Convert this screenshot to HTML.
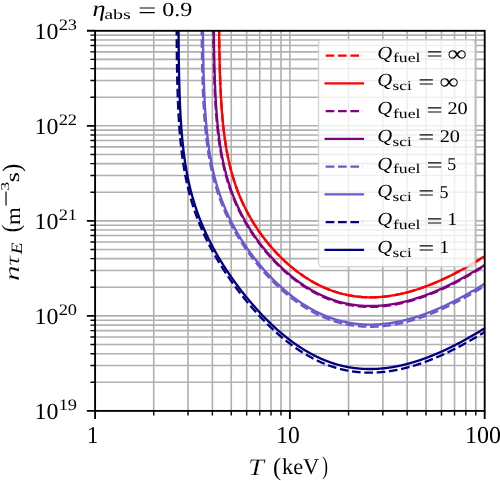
<!DOCTYPE html>
<html><head><meta charset="utf-8"><title>Lawson criterion</title>
<style>html,body{margin:0;padding:0;background:#fff;overflow:hidden}svg{display:block;text-rendering:geometricPrecision}</style>
</head><body>
<svg width="500" height="481" viewBox="0 0 500 481">
<rect width="500" height="481" fill="#fff"/>
<defs><clipPath id="ax"><rect x="95.10" y="30.80" width="389.60" height="380.10"/></clipPath></defs>
<path d="M153.74,30.80V410.90M188.04,30.80V410.90M212.38,30.80V410.90M231.26,30.80V410.90M246.68,30.80V410.90M259.73,30.80V410.90M271.02,30.80V410.90M280.99,30.80V410.90M289.90,30.80V410.90M348.54,30.80V410.90M382.84,30.80V410.90M407.18,30.80V410.90M426.06,30.80V410.90M441.48,30.80V410.90M454.53,30.80V410.90M465.82,30.80V410.90M475.79,30.80V410.90M95.10,382.29H484.70M95.10,365.56H484.70M95.10,353.69H484.70M95.10,344.48H484.70M95.10,336.96H484.70M95.10,330.59H484.70M95.10,325.08H484.70M95.10,320.22H484.70M95.10,315.88H484.70M95.10,287.27H484.70M95.10,270.54H484.70M95.10,258.66H484.70M95.10,249.46H484.70M95.10,241.93H484.70M95.10,235.57H484.70M95.10,230.06H484.70M95.10,225.20H484.70M95.10,220.85H484.70M95.10,192.24H484.70M95.10,175.51H484.70M95.10,163.64H484.70M95.10,154.43H484.70M95.10,146.91H484.70M95.10,140.54H484.70M95.10,135.03H484.70M95.10,130.17H484.70M95.10,125.82H484.70M95.10,97.22H484.70M95.10,80.49H484.70M95.10,68.61H484.70M95.10,59.41H484.70M95.10,51.88H484.70M95.10,45.52H484.70M95.10,40.01H484.70M95.10,35.15H484.70" stroke="#b0b0b0" stroke-width="1.60" fill="none"/>
<g clip-path="url(#ax)" fill="none" stroke-width="2.33">
<path d="M218.85,2.29 L219.23,41.57 L219.61,61.45 L220.00,74.91 L220.38,85.12 L220.76,93.36 L221.15,100.28 L221.53,106.25 L221.91,111.50 L222.30,116.20 L222.68,120.45 L223.06,124.33 L223.44,127.91 L223.83,131.23 L224.21,134.32 L224.59,137.23 L224.98,139.96 L225.36,142.54 L225.74,145.00 L226.13,147.33 L226.51,149.55 L226.89,151.68 L227.28,153.72 L227.66,155.68 L228.04,157.57 L228.42,159.38 L228.81,161.14 L229.19,162.83 L229.57,164.48 L229.96,166.07 L230.34,167.61 L230.72,169.11 L231.11,170.57 L231.49,171.99 L231.87,173.38 L232.26,174.73 L232.64,176.05 L233.02,177.33 L233.41,178.59 L233.79,179.82 L234.17,181.02 L234.55,182.20 L234.94,183.35 L235.32,184.49 L235.70,185.60 L236.09,186.69 L236.47,187.75 L236.85,188.80 L237.24,189.84 L237.62,190.85 L238.00,191.85 L238.39,192.83 L238.77,193.79 L239.15,194.74 L239.54,195.68 L239.92,196.60 L240.30,197.51 L240.68,198.41 L241.07,199.29 L241.45,200.16 L241.83,201.02 L242.22,201.87 L242.60,202.70 L242.98,203.53 L243.37,204.34 L243.75,205.15 L244.13,205.94 L244.52,206.73 L244.90,207.51 L245.28,208.27 L245.67,209.03 L246.05,209.78 L246.43,210.53 L246.81,211.26 L247.20,211.99 L247.58,212.71 L247.96,213.42 L248.35,214.12 L248.73,214.82 L249.11,215.51 L249.50,216.19 L249.88,216.87 L250.26,217.54 L250.65,218.20 L251.03,218.86 L251.41,219.51 L251.80,220.15 L252.18,220.79 L252.56,221.43 L252.94,222.06 L253.33,222.68 L253.71,223.30 L254.09,223.91 L254.48,224.51 L254.86,225.12 L255.24,225.71 L255.63,226.30 L256.01,226.89 L256.39,227.47 L256.78,228.05 L257.16,228.63 L257.54,229.19 L257.93,229.76 L258.31,230.32 L258.69,230.87 L259.07,231.43 L259.46,231.97 L259.84,232.52 L260.22,233.06 L260.61,233.59 L260.99,234.12 L261.37,234.65 L261.76,235.17 L262.14,235.69 L262.52,236.21 L262.91,236.72 L263.29,237.23 L263.67,237.74 L264.06,238.24 L264.44,238.74 L264.82,239.23 L265.20,239.73 L265.59,240.21 L265.97,240.70 L266.35,241.18 L266.74,241.66 L267.12,242.14 L267.50,242.61 L267.89,243.08 L268.27,243.55 L268.65,244.01 L269.04,244.47 L269.42,244.93 L269.80,245.38 L270.19,245.83 L270.57,246.28 L270.95,246.73 L271.33,247.17 L271.72,247.61 L272.10,248.05 L272.48,248.48 L272.87,248.91 L273.25,249.34 L273.63,249.77 L274.02,250.19 L274.40,250.62 L274.78,251.04 L275.17,251.45 L275.55,251.86 L275.93,252.28 L276.31,252.68 L276.70,253.09 L277.08,253.49 L277.46,253.90 L277.85,254.29 L278.23,254.69 L278.61,255.08 L279.00,255.48 L279.38,255.86 L279.76,256.25 L280.15,256.64 L280.53,257.02 L280.91,257.40 L281.30,257.77 L281.68,258.15 L282.06,258.52 L282.44,258.89 L282.83,259.26 L283.21,259.63 L283.59,259.99 L283.98,260.35 L284.36,260.71 L284.74,261.07 L285.13,261.42 L285.51,261.78 L285.89,262.13 L286.28,262.48 L286.66,262.82 L287.04,263.17 L287.43,263.51 L287.81,263.85 L288.19,264.19 L288.57,264.52 L288.96,264.86 L289.34,265.19 L289.72,265.52 L290.11,265.85 L290.49,266.17 L290.87,266.50 L291.26,266.82 L291.64,267.14 L292.02,267.45 L292.41,267.77 L292.79,268.08 L293.17,268.40 L293.56,268.71 L293.94,269.01 L294.32,269.32 L294.70,269.62 L295.09,269.92 L295.47,270.22 L295.85,270.52 L296.24,270.82 L296.62,271.11 L297.00,271.41 L297.39,271.70 L297.77,271.98 L298.15,272.27 L298.54,272.56 L298.92,272.84 L299.30,273.12 L299.69,273.40 L300.07,273.68 L300.45,273.95 L300.83,274.22 L301.22,274.50 L301.60,274.77 L301.98,275.03 L302.37,275.30 L302.75,275.57 L303.13,275.83 L303.52,276.09 L303.90,276.35 L304.28,276.60 L304.67,276.86 L305.05,277.11 L305.43,277.37 L305.82,277.62 L306.20,277.86 L306.58,278.11 L306.96,278.36 L307.35,278.60 L307.73,278.84 L308.11,279.08 L308.50,279.32 L308.88,279.55 L309.26,279.79 L309.65,280.02 L310.03,280.25 L310.41,280.48 L310.80,280.71 L311.18,280.93 L311.56,281.16 L311.95,281.38 L312.33,281.60 L312.71,281.82 L313.09,282.03 L313.48,282.25 L313.86,282.46 L314.24,282.67 L314.63,282.89 L315.01,283.09 L315.39,283.30 L315.78,283.51 L316.16,283.71 L316.54,283.91 L316.93,284.11 L317.31,284.31 L317.69,284.51 L318.08,284.70 L318.46,284.90 L318.84,285.09 L319.22,285.28 L319.61,285.47 L319.99,285.65 L320.37,285.84 L320.76,286.02 L321.14,286.21 L321.52,286.39 L321.91,286.57 L322.29,286.74 L322.67,286.92 L323.06,287.09 L323.44,287.27 L323.82,287.44 L324.21,287.61 L324.59,287.77 L324.97,287.94 L325.35,288.10 L325.74,288.27 L326.12,288.43 L326.50,288.59 L326.89,288.75 L327.27,288.90 L327.65,289.06 L328.04,289.21 L328.42,289.36 L328.80,289.52 L329.19,289.66 L329.57,289.81 L329.95,289.96 L330.33,290.10 L330.72,290.24 L331.10,290.39 L331.48,290.53 L331.87,290.66 L332.25,290.80 L332.63,290.94 L333.02,291.07 L333.40,291.20 L333.78,291.33 L334.17,291.46 L334.55,291.59 L334.93,291.72 L335.32,291.84 L335.70,291.96 L336.08,292.08 L336.46,292.20 L336.85,292.32 L337.23,292.44 L337.61,292.56 L338.00,292.67 L338.38,292.78 L338.76,292.89 L339.15,293.00 L339.53,293.11 L339.91,293.22 L340.30,293.32 L340.68,293.43 L341.06,293.53 L341.45,293.63 L341.83,293.73 L342.21,293.83 L342.59,293.93 L342.98,294.02 L343.36,294.12 L343.74,294.21 L344.13,294.30 L344.51,294.39 L344.89,294.48 L345.28,294.57 L345.66,294.65 L346.04,294.73 L346.43,294.82 L346.81,294.90 L347.19,294.98 L347.58,295.06 L347.96,295.13 L348.34,295.21 L348.72,295.28 L349.11,295.36 L349.49,295.43 L349.87,295.50 L350.26,295.57 L350.64,295.63 L351.02,295.70 L351.41,295.77 L351.79,295.83 L352.17,295.89 L352.56,295.95 L352.94,296.01 L353.32,296.07 L353.71,296.13 L354.09,296.18 L354.47,296.23 L354.85,296.29 L355.24,296.34 L355.62,296.39 L356.00,296.44 L356.39,296.49 L356.77,296.53 L357.15,296.58 L357.54,296.62 L357.92,296.66 L358.30,296.70 L358.69,296.74 L359.07,296.78 L359.45,296.82 L359.84,296.85 L360.22,296.89 L360.60,296.92 L360.98,296.95 L361.37,296.98 L361.75,297.01 L362.13,297.04 L362.52,297.07 L362.90,297.09 L363.28,297.12 L363.67,297.14 L364.05,297.16 L364.43,297.18 L364.82,297.20 L365.20,297.22 L365.58,297.24 L365.97,297.25 L366.35,297.27 L366.73,297.28 L367.11,297.29 L367.50,297.30 L367.88,297.31 L368.26,297.32 L368.65,297.33 L369.03,297.33 L369.41,297.34 L369.80,297.34 L370.18,297.34 L370.56,297.34 L370.95,297.34 L371.33,297.34 L371.71,297.34 L372.10,297.33 L372.48,297.33 L372.86,297.32 L373.24,297.32 L373.63,297.31 L374.01,297.30 L374.39,297.29 L374.78,297.27 L375.16,297.26 L375.54,297.25 L375.93,297.23 L376.31,297.22 L376.69,297.20 L377.08,297.18 L377.46,297.16 L377.84,297.14 L378.22,297.11 L378.61,297.09 L378.99,297.07 L379.37,297.04 L379.76,297.01 L380.14,296.99 L380.52,296.96 L380.91,296.93 L381.29,296.90 L381.67,296.86 L382.06,296.83 L382.44,296.80 L382.82,296.76 L383.21,296.72 L383.59,296.68 L383.97,296.65 L384.35,296.61 L384.74,296.56 L385.12,296.52 L385.50,296.48 L385.89,296.43 L386.27,296.39 L386.65,296.34 L387.04,296.29 L387.42,296.25 L387.80,296.20 L388.19,296.15 L388.57,296.09 L388.95,296.04 L389.34,295.99 L389.72,295.93 L390.10,295.88 L390.48,295.82 L390.87,295.76 L391.25,295.70 L391.63,295.64 L392.02,295.58 L392.40,295.52 L392.78,295.45 L393.17,295.39 L393.55,295.32 L393.93,295.26 L394.32,295.19 L394.70,295.12 L395.08,295.05 L395.47,294.98 L395.85,294.91 L396.23,294.84 L396.61,294.76 L397.00,294.69 L397.38,294.62 L397.76,294.54 L398.15,294.46 L398.53,294.38 L398.91,294.30 L399.30,294.22 L399.68,294.14 L400.06,294.06 L400.45,293.98 L400.83,293.89 L401.21,293.81 L401.60,293.72 L401.98,293.63 L402.36,293.55 L402.74,293.46 L403.13,293.37 L403.51,293.28 L403.89,293.18 L404.28,293.09 L404.66,293.00 L405.04,292.90 L405.43,292.81 L405.81,292.71 L406.19,292.61 L406.58,292.51 L406.96,292.41 L407.34,292.31 L407.73,292.21 L408.11,292.11 L408.49,292.01 L408.87,291.90 L409.26,291.80 L409.64,291.69 L410.02,291.59 L410.41,291.48 L410.79,291.37 L411.17,291.26 L411.56,291.15 L411.94,291.04 L412.32,290.93 L412.71,290.81 L413.09,290.70 L413.47,290.59 L413.86,290.47 L414.24,290.35 L414.62,290.24 L415.00,290.12 L415.39,290.00 L415.77,289.88 L416.15,289.76 L416.54,289.64 L416.92,289.51 L417.30,289.39 L417.69,289.27 L418.07,289.14 L418.45,289.01 L418.84,288.89 L419.22,288.76 L419.60,288.63 L419.99,288.50 L420.37,288.37 L420.75,288.24 L421.13,288.11 L421.52,287.97 L421.90,287.84 L422.28,287.71 L422.67,287.57 L423.05,287.43 L423.43,287.30 L423.82,287.16 L424.20,287.02 L424.58,286.88 L424.97,286.74 L425.35,286.60 L425.73,286.46 L426.11,286.32 L426.50,286.17 L426.88,286.03 L427.26,285.88 L427.65,285.74 L428.03,285.59 L428.41,285.44 L428.80,285.29 L429.18,285.14 L429.56,284.99 L429.95,284.84 L430.33,284.69 L430.71,284.54 L431.10,284.39 L431.48,284.23 L431.86,284.08 L432.24,283.92 L432.63,283.77 L433.01,283.61 L433.39,283.45 L433.78,283.29 L434.16,283.13 L434.54,282.97 L434.93,282.81 L435.31,282.65 L435.69,282.49 L436.08,282.33 L436.46,282.16 L436.84,282.00 L437.23,281.83 L437.61,281.67 L437.99,281.50 L438.37,281.33 L438.76,281.16 L439.14,280.99 L439.52,280.82 L439.91,280.65 L440.29,280.48 L440.67,280.31 L441.06,280.14 L441.44,279.96 L441.82,279.79 L442.21,279.61 L442.59,279.44 L442.97,279.26 L443.36,279.09 L443.74,278.91 L444.12,278.73 L444.50,278.55 L444.89,278.37 L445.27,278.19 L445.65,278.01 L446.04,277.83 L446.42,277.64 L446.80,277.46 L447.19,277.28 L447.57,277.09 L447.95,276.90 L448.34,276.72 L448.72,276.53 L449.10,276.34 L449.49,276.16 L449.87,275.97 L450.25,275.78 L450.63,275.59 L451.02,275.40 L451.40,275.20 L451.78,275.01 L452.17,274.82 L452.55,274.62 L452.93,274.43 L453.32,274.24 L453.70,274.04 L454.08,273.84 L454.47,273.65 L454.85,273.45 L455.23,273.25 L455.62,273.05 L456.00,272.85 L456.38,272.65 L456.76,272.45 L457.15,272.25 L457.53,272.05 L457.91,271.84 L458.30,271.64 L458.68,271.43 L459.06,271.23 L459.45,271.02 L459.83,270.82 L460.21,270.61 L460.60,270.40 L460.98,270.20 L461.36,269.99 L461.75,269.78 L462.13,269.57 L462.51,269.36 L462.89,269.15 L463.28,268.93 L463.66,268.72 L464.04,268.51 L464.43,268.30 L464.81,268.08 L465.19,267.87 L465.58,267.65 L465.96,267.43 L466.34,267.22 L466.73,267.00 L467.11,266.78 L467.49,266.56 L467.88,266.34 L468.26,266.13 L468.64,265.90 L469.02,265.68 L469.41,265.46 L469.79,265.24 L470.17,265.02 L470.56,264.79 L470.94,264.57 L471.32,264.35 L471.71,264.12 L472.09,263.90 L472.47,263.67 L472.86,263.44 L473.24,263.22 L473.62,262.99 L474.01,262.76 L474.39,262.53 L474.77,262.30 L475.15,262.07 L475.54,261.84 L475.92,261.61 L476.30,261.38 L476.69,261.14 L477.07,260.91 L477.45,260.68 L477.84,260.44 L478.22,260.21 L478.60,259.97 L478.99,259.74 L479.37,259.50 L479.75,259.27 L480.13,259.03 L480.52,258.79 L480.90,258.55 L481.28,258.31 L481.67,258.07 L482.05,257.83 L482.43,257.59 L482.82,257.35 L483.20,257.11 L483.58,256.87 L483.97,256.63 L484.35,256.38 L484.73,256.14 L485.12,255.90 L485.50,255.65 L485.88,255.41 L486.26,255.16 L486.65,254.91" stroke="#ff0000" stroke-dasharray="8.62 3.73" stroke-linejoin="round"/>
<path d="M218.85,2.29 L219.23,41.57 L219.61,61.45 L220.00,74.91 L220.38,85.12 L220.76,93.36 L221.15,100.28 L221.53,106.25 L221.91,111.50 L222.30,116.20 L222.68,120.45 L223.06,124.33 L223.44,127.91 L223.83,131.23 L224.21,134.32 L224.59,137.23 L224.98,139.96 L225.36,142.54 L225.74,145.00 L226.13,147.33 L226.51,149.55 L226.89,151.68 L227.28,153.72 L227.66,155.68 L228.04,157.57 L228.42,159.38 L228.81,161.14 L229.19,162.83 L229.57,164.48 L229.96,166.07 L230.34,167.61 L230.72,169.11 L231.11,170.57 L231.49,171.99 L231.87,173.38 L232.26,174.73 L232.64,176.05 L233.02,177.33 L233.41,178.59 L233.79,179.82 L234.17,181.02 L234.55,182.20 L234.94,183.35 L235.32,184.49 L235.70,185.60 L236.09,186.69 L236.47,187.75 L236.85,188.80 L237.24,189.84 L237.62,190.85 L238.00,191.85 L238.39,192.83 L238.77,193.79 L239.15,194.74 L239.54,195.68 L239.92,196.60 L240.30,197.51 L240.68,198.41 L241.07,199.29 L241.45,200.16 L241.83,201.02 L242.22,201.87 L242.60,202.70 L242.98,203.53 L243.37,204.34 L243.75,205.15 L244.13,205.94 L244.52,206.73 L244.90,207.51 L245.28,208.27 L245.67,209.03 L246.05,209.78 L246.43,210.53 L246.81,211.26 L247.20,211.99 L247.58,212.71 L247.96,213.42 L248.35,214.12 L248.73,214.82 L249.11,215.51 L249.50,216.19 L249.88,216.87 L250.26,217.54 L250.65,218.20 L251.03,218.86 L251.41,219.51 L251.80,220.15 L252.18,220.79 L252.56,221.43 L252.94,222.06 L253.33,222.68 L253.71,223.30 L254.09,223.91 L254.48,224.51 L254.86,225.12 L255.24,225.71 L255.63,226.30 L256.01,226.89 L256.39,227.47 L256.78,228.05 L257.16,228.63 L257.54,229.19 L257.93,229.76 L258.31,230.32 L258.69,230.87 L259.07,231.43 L259.46,231.97 L259.84,232.52 L260.22,233.06 L260.61,233.59 L260.99,234.12 L261.37,234.65 L261.76,235.17 L262.14,235.69 L262.52,236.21 L262.91,236.72 L263.29,237.23 L263.67,237.74 L264.06,238.24 L264.44,238.74 L264.82,239.23 L265.20,239.73 L265.59,240.21 L265.97,240.70 L266.35,241.18 L266.74,241.66 L267.12,242.14 L267.50,242.61 L267.89,243.08 L268.27,243.55 L268.65,244.01 L269.04,244.47 L269.42,244.93 L269.80,245.38 L270.19,245.83 L270.57,246.28 L270.95,246.73 L271.33,247.17 L271.72,247.61 L272.10,248.05 L272.48,248.48 L272.87,248.91 L273.25,249.34 L273.63,249.77 L274.02,250.19 L274.40,250.62 L274.78,251.04 L275.17,251.45 L275.55,251.86 L275.93,252.28 L276.31,252.68 L276.70,253.09 L277.08,253.49 L277.46,253.90 L277.85,254.29 L278.23,254.69 L278.61,255.08 L279.00,255.48 L279.38,255.86 L279.76,256.25 L280.15,256.64 L280.53,257.02 L280.91,257.40 L281.30,257.77 L281.68,258.15 L282.06,258.52 L282.44,258.89 L282.83,259.26 L283.21,259.63 L283.59,259.99 L283.98,260.35 L284.36,260.71 L284.74,261.07 L285.13,261.42 L285.51,261.78 L285.89,262.13 L286.28,262.48 L286.66,262.82 L287.04,263.17 L287.43,263.51 L287.81,263.85 L288.19,264.19 L288.57,264.52 L288.96,264.86 L289.34,265.19 L289.72,265.52 L290.11,265.85 L290.49,266.17 L290.87,266.50 L291.26,266.82 L291.64,267.14 L292.02,267.45 L292.41,267.77 L292.79,268.08 L293.17,268.40 L293.56,268.71 L293.94,269.01 L294.32,269.32 L294.70,269.62 L295.09,269.92 L295.47,270.22 L295.85,270.52 L296.24,270.82 L296.62,271.11 L297.00,271.41 L297.39,271.70 L297.77,271.98 L298.15,272.27 L298.54,272.56 L298.92,272.84 L299.30,273.12 L299.69,273.40 L300.07,273.68 L300.45,273.95 L300.83,274.22 L301.22,274.50 L301.60,274.77 L301.98,275.03 L302.37,275.30 L302.75,275.57 L303.13,275.83 L303.52,276.09 L303.90,276.35 L304.28,276.60 L304.67,276.86 L305.05,277.11 L305.43,277.37 L305.82,277.62 L306.20,277.86 L306.58,278.11 L306.96,278.36 L307.35,278.60 L307.73,278.84 L308.11,279.08 L308.50,279.32 L308.88,279.55 L309.26,279.79 L309.65,280.02 L310.03,280.25 L310.41,280.48 L310.80,280.71 L311.18,280.93 L311.56,281.16 L311.95,281.38 L312.33,281.60 L312.71,281.82 L313.09,282.03 L313.48,282.25 L313.86,282.46 L314.24,282.67 L314.63,282.89 L315.01,283.09 L315.39,283.30 L315.78,283.51 L316.16,283.71 L316.54,283.91 L316.93,284.11 L317.31,284.31 L317.69,284.51 L318.08,284.70 L318.46,284.90 L318.84,285.09 L319.22,285.28 L319.61,285.47 L319.99,285.65 L320.37,285.84 L320.76,286.02 L321.14,286.21 L321.52,286.39 L321.91,286.57 L322.29,286.74 L322.67,286.92 L323.06,287.09 L323.44,287.27 L323.82,287.44 L324.21,287.61 L324.59,287.77 L324.97,287.94 L325.35,288.10 L325.74,288.27 L326.12,288.43 L326.50,288.59 L326.89,288.75 L327.27,288.90 L327.65,289.06 L328.04,289.21 L328.42,289.36 L328.80,289.52 L329.19,289.66 L329.57,289.81 L329.95,289.96 L330.33,290.10 L330.72,290.24 L331.10,290.39 L331.48,290.53 L331.87,290.66 L332.25,290.80 L332.63,290.94 L333.02,291.07 L333.40,291.20 L333.78,291.33 L334.17,291.46 L334.55,291.59 L334.93,291.72 L335.32,291.84 L335.70,291.96 L336.08,292.08 L336.46,292.20 L336.85,292.32 L337.23,292.44 L337.61,292.56 L338.00,292.67 L338.38,292.78 L338.76,292.89 L339.15,293.00 L339.53,293.11 L339.91,293.22 L340.30,293.32 L340.68,293.43 L341.06,293.53 L341.45,293.63 L341.83,293.73 L342.21,293.83 L342.59,293.93 L342.98,294.02 L343.36,294.12 L343.74,294.21 L344.13,294.30 L344.51,294.39 L344.89,294.48 L345.28,294.57 L345.66,294.65 L346.04,294.73 L346.43,294.82 L346.81,294.90 L347.19,294.98 L347.58,295.06 L347.96,295.13 L348.34,295.21 L348.72,295.28 L349.11,295.36 L349.49,295.43 L349.87,295.50 L350.26,295.57 L350.64,295.63 L351.02,295.70 L351.41,295.77 L351.79,295.83 L352.17,295.89 L352.56,295.95 L352.94,296.01 L353.32,296.07 L353.71,296.13 L354.09,296.18 L354.47,296.23 L354.85,296.29 L355.24,296.34 L355.62,296.39 L356.00,296.44 L356.39,296.49 L356.77,296.53 L357.15,296.58 L357.54,296.62 L357.92,296.66 L358.30,296.70 L358.69,296.74 L359.07,296.78 L359.45,296.82 L359.84,296.85 L360.22,296.89 L360.60,296.92 L360.98,296.95 L361.37,296.98 L361.75,297.01 L362.13,297.04 L362.52,297.07 L362.90,297.09 L363.28,297.12 L363.67,297.14 L364.05,297.16 L364.43,297.18 L364.82,297.20 L365.20,297.22 L365.58,297.24 L365.97,297.25 L366.35,297.27 L366.73,297.28 L367.11,297.29 L367.50,297.30 L367.88,297.31 L368.26,297.32 L368.65,297.33 L369.03,297.33 L369.41,297.34 L369.80,297.34 L370.18,297.34 L370.56,297.34 L370.95,297.34 L371.33,297.34 L371.71,297.34 L372.10,297.33 L372.48,297.33 L372.86,297.32 L373.24,297.32 L373.63,297.31 L374.01,297.30 L374.39,297.29 L374.78,297.27 L375.16,297.26 L375.54,297.25 L375.93,297.23 L376.31,297.22 L376.69,297.20 L377.08,297.18 L377.46,297.16 L377.84,297.14 L378.22,297.11 L378.61,297.09 L378.99,297.07 L379.37,297.04 L379.76,297.01 L380.14,296.99 L380.52,296.96 L380.91,296.93 L381.29,296.90 L381.67,296.86 L382.06,296.83 L382.44,296.80 L382.82,296.76 L383.21,296.72 L383.59,296.68 L383.97,296.65 L384.35,296.61 L384.74,296.56 L385.12,296.52 L385.50,296.48 L385.89,296.43 L386.27,296.39 L386.65,296.34 L387.04,296.29 L387.42,296.25 L387.80,296.20 L388.19,296.15 L388.57,296.09 L388.95,296.04 L389.34,295.99 L389.72,295.93 L390.10,295.88 L390.48,295.82 L390.87,295.76 L391.25,295.70 L391.63,295.64 L392.02,295.58 L392.40,295.52 L392.78,295.45 L393.17,295.39 L393.55,295.32 L393.93,295.26 L394.32,295.19 L394.70,295.12 L395.08,295.05 L395.47,294.98 L395.85,294.91 L396.23,294.84 L396.61,294.76 L397.00,294.69 L397.38,294.62 L397.76,294.54 L398.15,294.46 L398.53,294.38 L398.91,294.30 L399.30,294.22 L399.68,294.14 L400.06,294.06 L400.45,293.98 L400.83,293.89 L401.21,293.81 L401.60,293.72 L401.98,293.63 L402.36,293.55 L402.74,293.46 L403.13,293.37 L403.51,293.28 L403.89,293.18 L404.28,293.09 L404.66,293.00 L405.04,292.90 L405.43,292.81 L405.81,292.71 L406.19,292.61 L406.58,292.51 L406.96,292.41 L407.34,292.31 L407.73,292.21 L408.11,292.11 L408.49,292.01 L408.87,291.90 L409.26,291.80 L409.64,291.69 L410.02,291.59 L410.41,291.48 L410.79,291.37 L411.17,291.26 L411.56,291.15 L411.94,291.04 L412.32,290.93 L412.71,290.81 L413.09,290.70 L413.47,290.59 L413.86,290.47 L414.24,290.35 L414.62,290.24 L415.00,290.12 L415.39,290.00 L415.77,289.88 L416.15,289.76 L416.54,289.64 L416.92,289.51 L417.30,289.39 L417.69,289.27 L418.07,289.14 L418.45,289.01 L418.84,288.89 L419.22,288.76 L419.60,288.63 L419.99,288.50 L420.37,288.37 L420.75,288.24 L421.13,288.11 L421.52,287.97 L421.90,287.84 L422.28,287.71 L422.67,287.57 L423.05,287.43 L423.43,287.30 L423.82,287.16 L424.20,287.02 L424.58,286.88 L424.97,286.74 L425.35,286.60 L425.73,286.46 L426.11,286.32 L426.50,286.17 L426.88,286.03 L427.26,285.88 L427.65,285.74 L428.03,285.59 L428.41,285.44 L428.80,285.29 L429.18,285.14 L429.56,284.99 L429.95,284.84 L430.33,284.69 L430.71,284.54 L431.10,284.39 L431.48,284.23 L431.86,284.08 L432.24,283.92 L432.63,283.77 L433.01,283.61 L433.39,283.45 L433.78,283.29 L434.16,283.13 L434.54,282.97 L434.93,282.81 L435.31,282.65 L435.69,282.49 L436.08,282.33 L436.46,282.16 L436.84,282.00 L437.23,281.83 L437.61,281.67 L437.99,281.50 L438.37,281.33 L438.76,281.16 L439.14,280.99 L439.52,280.82 L439.91,280.65 L440.29,280.48 L440.67,280.31 L441.06,280.14 L441.44,279.96 L441.82,279.79 L442.21,279.61 L442.59,279.44 L442.97,279.26 L443.36,279.09 L443.74,278.91 L444.12,278.73 L444.50,278.55 L444.89,278.37 L445.27,278.19 L445.65,278.01 L446.04,277.83 L446.42,277.64 L446.80,277.46 L447.19,277.28 L447.57,277.09 L447.95,276.90 L448.34,276.72 L448.72,276.53 L449.10,276.34 L449.49,276.16 L449.87,275.97 L450.25,275.78 L450.63,275.59 L451.02,275.40 L451.40,275.20 L451.78,275.01 L452.17,274.82 L452.55,274.62 L452.93,274.43 L453.32,274.24 L453.70,274.04 L454.08,273.84 L454.47,273.65 L454.85,273.45 L455.23,273.25 L455.62,273.05 L456.00,272.85 L456.38,272.65 L456.76,272.45 L457.15,272.25 L457.53,272.05 L457.91,271.84 L458.30,271.64 L458.68,271.43 L459.06,271.23 L459.45,271.02 L459.83,270.82 L460.21,270.61 L460.60,270.40 L460.98,270.20 L461.36,269.99 L461.75,269.78 L462.13,269.57 L462.51,269.36 L462.89,269.15 L463.28,268.93 L463.66,268.72 L464.04,268.51 L464.43,268.30 L464.81,268.08 L465.19,267.87 L465.58,267.65 L465.96,267.43 L466.34,267.22 L466.73,267.00 L467.11,266.78 L467.49,266.56 L467.88,266.34 L468.26,266.13 L468.64,265.90 L469.02,265.68 L469.41,265.46 L469.79,265.24 L470.17,265.02 L470.56,264.79 L470.94,264.57 L471.32,264.35 L471.71,264.12 L472.09,263.90 L472.47,263.67 L472.86,263.44 L473.24,263.22 L473.62,262.99 L474.01,262.76 L474.39,262.53 L474.77,262.30 L475.15,262.07 L475.54,261.84 L475.92,261.61 L476.30,261.38 L476.69,261.14 L477.07,260.91 L477.45,260.68 L477.84,260.44 L478.22,260.21 L478.60,259.97 L478.99,259.74 L479.37,259.50 L479.75,259.27 L480.13,259.03 L480.52,258.79 L480.90,258.55 L481.28,258.31 L481.67,258.07 L482.05,257.83 L482.43,257.59 L482.82,257.35 L483.20,257.11 L483.58,256.87 L483.97,256.63 L484.35,256.38 L484.73,256.14 L485.12,255.90 L485.50,255.65 L485.88,255.41 L486.26,255.16 L486.65,254.91" stroke="#ff0000" stroke-linecap="square" stroke-linejoin="round"/>
<path d="M213.08,2.29 L213.47,43.70 L213.87,64.09 L214.26,77.78 L214.65,88.12 L215.04,96.46 L215.43,103.44 L215.82,109.47 L216.21,114.77 L216.61,119.50 L217.00,123.79 L217.39,127.70 L217.78,131.31 L218.17,134.65 L218.56,137.77 L218.95,140.70 L219.35,143.46 L219.74,146.06 L220.13,148.53 L220.52,150.89 L220.91,153.13 L221.30,155.28 L221.69,157.34 L222.08,159.31 L222.48,161.22 L222.87,163.05 L223.26,164.83 L223.65,166.54 L224.04,168.20 L224.43,169.81 L224.82,171.37 L225.22,172.89 L225.61,174.37 L226.00,175.80 L226.39,177.21 L226.78,178.57 L227.17,179.91 L227.56,181.21 L227.96,182.48 L228.35,183.73 L228.74,184.95 L229.13,186.15 L229.52,187.32 L229.91,188.47 L230.30,189.59 L230.69,190.70 L231.09,191.78 L231.48,192.85 L231.87,193.90 L232.26,194.93 L232.65,195.95 L233.04,196.94 L233.43,197.93 L233.83,198.89 L234.22,199.85 L234.61,200.79 L235.00,201.71 L235.39,202.62 L235.78,203.52 L236.17,204.41 L236.57,205.29 L236.96,206.15 L237.35,207.01 L237.74,207.85 L238.13,208.68 L238.52,209.50 L238.91,210.32 L239.30,211.12 L239.70,211.91 L240.09,212.70 L240.48,213.48 L240.87,214.24 L241.26,215.00 L241.65,215.76 L242.04,216.50 L242.44,217.24 L242.83,217.96 L243.22,218.69 L243.61,219.40 L244.00,220.11 L244.39,220.81 L244.78,221.50 L245.18,222.19 L245.57,222.87 L245.96,223.55 L246.35,224.22 L246.74,224.88 L247.13,225.54 L247.52,226.19 L247.91,226.84 L248.31,227.48 L248.70,228.11 L249.09,228.74 L249.48,229.37 L249.87,229.99 L250.26,230.60 L250.65,231.21 L251.05,231.82 L251.44,232.42 L251.83,233.01 L252.22,233.61 L252.61,234.19 L253.00,234.78 L253.39,235.35 L253.79,235.93 L254.18,236.50 L254.57,237.06 L254.96,237.63 L255.35,238.18 L255.74,238.74 L256.13,239.29 L256.53,239.83 L256.92,240.38 L257.31,240.91 L257.70,241.45 L258.09,241.98 L258.48,242.51 L258.87,243.03 L259.26,243.55 L259.66,244.07 L260.05,244.59 L260.44,245.10 L260.83,245.60 L261.22,246.11 L261.61,246.61 L262.00,247.11 L262.40,247.60 L262.79,248.09 L263.18,248.58 L263.57,249.07 L263.96,249.55 L264.35,250.03 L264.74,250.50 L265.14,250.98 L265.53,251.45 L265.92,251.92 L266.31,252.38 L266.70,252.84 L267.09,253.30 L267.48,253.76 L267.87,254.21 L268.27,254.66 L268.66,255.11 L269.05,255.56 L269.44,256.00 L269.83,256.44 L270.22,256.88 L270.61,257.32 L271.01,257.75 L271.40,258.18 L271.79,258.61 L272.18,259.03 L272.57,259.45 L272.96,259.87 L273.35,260.29 L273.75,260.71 L274.14,261.12 L274.53,261.53 L274.92,261.94 L275.31,262.34 L275.70,262.75 L276.09,263.15 L276.48,263.55 L276.88,263.94 L277.27,264.34 L277.66,264.73 L278.05,265.12 L278.44,265.51 L278.83,265.89 L279.22,266.27 L279.62,266.66 L280.01,267.03 L280.40,267.41 L280.79,267.78 L281.18,268.16 L281.57,268.53 L281.96,268.89 L282.36,269.26 L282.75,269.62 L283.14,269.98 L283.53,270.34 L283.92,270.70 L284.31,271.05 L284.70,271.41 L285.09,271.76 L285.49,272.11 L285.88,272.45 L286.27,272.80 L286.66,273.14 L287.05,273.48 L287.44,273.82 L287.83,274.15 L288.23,274.49 L288.62,274.82 L289.01,275.15 L289.40,275.48 L289.79,275.81 L290.18,276.13 L290.57,276.45 L290.97,276.77 L291.36,277.09 L291.75,277.41 L292.14,277.72 L292.53,278.04 L292.92,278.35 L293.31,278.66 L293.70,278.96 L294.10,279.27 L294.49,279.57 L294.88,279.87 L295.27,280.17 L295.66,280.47 L296.05,280.76 L296.44,281.06 L296.84,281.35 L297.23,281.64 L297.62,281.93 L298.01,282.21 L298.40,282.50 L298.79,282.78 L299.18,283.06 L299.58,283.34 L299.97,283.62 L300.36,283.89 L300.75,284.16 L301.14,284.44 L301.53,284.70 L301.92,284.97 L302.31,285.24 L302.71,285.50 L303.10,285.76 L303.49,286.03 L303.88,286.28 L304.27,286.54 L304.66,286.80 L305.05,287.05 L305.45,287.30 L305.84,287.55 L306.23,287.80 L306.62,288.04 L307.01,288.29 L307.40,288.53 L307.79,288.77 L308.19,289.01 L308.58,289.25 L308.97,289.48 L309.36,289.72 L309.75,289.95 L310.14,290.18 L310.53,290.41 L310.92,290.64 L311.32,290.86 L311.71,291.08 L312.10,291.31 L312.49,291.53 L312.88,291.74 L313.27,291.96 L313.66,292.18 L314.06,292.39 L314.45,292.60 L314.84,292.81 L315.23,293.02 L315.62,293.22 L316.01,293.43 L316.40,293.63 L316.80,293.83 L317.19,294.03 L317.58,294.23 L317.97,294.43 L318.36,294.62 L318.75,294.82 L319.14,295.01 L319.53,295.20 L319.93,295.38 L320.32,295.57 L320.71,295.75 L321.10,295.94 L321.49,296.12 L321.88,296.30 L322.27,296.48 L322.67,296.65 L323.06,296.83 L323.45,297.00 L323.84,297.17 L324.23,297.34 L324.62,297.51 L325.01,297.68 L325.41,297.84 L325.80,298.01 L326.19,298.17 L326.58,298.33 L326.97,298.49 L327.36,298.64 L327.75,298.80 L328.14,298.95 L328.54,299.10 L328.93,299.26 L329.32,299.40 L329.71,299.55 L330.10,299.70 L330.49,299.84 L330.88,299.98 L331.28,300.13 L331.67,300.27 L332.06,300.40 L332.45,300.54 L332.84,300.68 L333.23,300.81 L333.62,300.94 L334.02,301.07 L334.41,301.20 L334.80,301.33 L335.19,301.45 L335.58,301.58 L335.97,301.70 L336.36,301.82 L336.75,301.94 L337.15,302.06 L337.54,302.17 L337.93,302.29 L338.32,302.40 L338.71,302.51 L339.10,302.63 L339.49,302.73 L339.89,302.84 L340.28,302.95 L340.67,303.05 L341.06,303.16 L341.45,303.26 L341.84,303.36 L342.23,303.46 L342.63,303.55 L343.02,303.65 L343.41,303.74 L343.80,303.83 L344.19,303.93 L344.58,304.02 L344.97,304.10 L345.37,304.19 L345.76,304.28 L346.15,304.36 L346.54,304.44 L346.93,304.52 L347.32,304.60 L347.71,304.68 L348.10,304.76 L348.50,304.83 L348.89,304.91 L349.28,304.98 L349.67,305.05 L350.06,305.12 L350.45,305.19 L350.84,305.26 L351.24,305.32 L351.63,305.39 L352.02,305.45 L352.41,305.51 L352.80,305.57 L353.19,305.63 L353.58,305.69 L353.98,305.74 L354.37,305.80 L354.76,305.85 L355.15,305.90 L355.54,305.95 L355.93,306.00 L356.32,306.05 L356.71,306.09 L357.11,306.14 L357.50,306.18 L357.89,306.22 L358.28,306.26 L358.67,306.30 L359.06,306.34 L359.45,306.38 L359.85,306.41 L360.24,306.45 L360.63,306.48 L361.02,306.51 L361.41,306.54 L361.80,306.57 L362.19,306.60 L362.59,306.63 L362.98,306.65 L363.37,306.67 L363.76,306.70 L364.15,306.72 L364.54,306.74 L364.93,306.76 L365.32,306.77 L365.72,306.79 L366.11,306.80 L366.50,306.82 L366.89,306.83 L367.28,306.84 L367.67,306.85 L368.06,306.86 L368.46,306.86 L368.85,306.87 L369.24,306.87 L369.63,306.88 L370.02,306.88 L370.41,306.88 L370.80,306.88 L371.20,306.88 L371.59,306.88 L371.98,306.87 L372.37,306.87 L372.76,306.86 L373.15,306.85 L373.54,306.84 L373.93,306.83 L374.33,306.82 L374.72,306.81 L375.11,306.79 L375.50,306.78 L375.89,306.76 L376.28,306.75 L376.67,306.73 L377.07,306.71 L377.46,306.69 L377.85,306.66 L378.24,306.64 L378.63,306.62 L379.02,306.59 L379.41,306.56 L379.81,306.54 L380.20,306.51 L380.59,306.48 L380.98,306.45 L381.37,306.41 L381.76,306.38 L382.15,306.34 L382.54,306.31 L382.94,306.27 L383.33,306.23 L383.72,306.19 L384.11,306.15 L384.50,306.11 L384.89,306.07 L385.28,306.02 L385.68,305.98 L386.07,305.93 L386.46,305.89 L386.85,305.84 L387.24,305.79 L387.63,305.74 L388.02,305.69 L388.42,305.63 L388.81,305.58 L389.20,305.52 L389.59,305.47 L389.98,305.41 L390.37,305.35 L390.76,305.29 L391.15,305.23 L391.55,305.17 L391.94,305.11 L392.33,305.04 L392.72,304.98 L393.11,304.91 L393.50,304.85 L393.89,304.78 L394.29,304.71 L394.68,304.64 L395.07,304.57 L395.46,304.50 L395.85,304.42 L396.24,304.35 L396.63,304.27 L397.03,304.20 L397.42,304.12 L397.81,304.04 L398.20,303.96 L398.59,303.88 L398.98,303.80 L399.37,303.72 L399.76,303.64 L400.16,303.55 L400.55,303.47 L400.94,303.38 L401.33,303.29 L401.72,303.20 L402.11,303.12 L402.50,303.03 L402.90,302.93 L403.29,302.84 L403.68,302.75 L404.07,302.65 L404.46,302.56 L404.85,302.46 L405.24,302.37 L405.64,302.27 L406.03,302.17 L406.42,302.07 L406.81,301.97 L407.20,301.86 L407.59,301.76 L407.98,301.66 L408.37,301.55 L408.77,301.45 L409.16,301.34 L409.55,301.23 L409.94,301.12 L410.33,301.01 L410.72,300.90 L411.11,300.79 L411.51,300.68 L411.90,300.57 L412.29,300.45 L412.68,300.34 L413.07,300.22 L413.46,300.10 L413.85,299.98 L414.25,299.87 L414.64,299.75 L415.03,299.63 L415.42,299.50 L415.81,299.38 L416.20,299.26 L416.59,299.13 L416.98,299.01 L417.38,298.88 L417.77,298.75 L418.16,298.63 L418.55,298.50 L418.94,298.37 L419.33,298.24 L419.72,298.11 L420.12,297.97 L420.51,297.84 L420.90,297.71 L421.29,297.57 L421.68,297.44 L422.07,297.30 L422.46,297.16 L422.86,297.02 L423.25,296.88 L423.64,296.74 L424.03,296.60 L424.42,296.46 L424.81,296.32 L425.20,296.17 L425.59,296.03 L425.99,295.89 L426.38,295.74 L426.77,295.59 L427.16,295.44 L427.55,295.30 L427.94,295.15 L428.33,295.00 L428.73,294.85 L429.12,294.69 L429.51,294.54 L429.90,294.39 L430.29,294.23 L430.68,294.08 L431.07,293.92 L431.47,293.76 L431.86,293.61 L432.25,293.45 L432.64,293.29 L433.03,293.13 L433.42,292.97 L433.81,292.81 L434.21,292.64 L434.60,292.48 L434.99,292.32 L435.38,292.15 L435.77,291.99 L436.16,291.82 L436.55,291.65 L436.94,291.49 L437.34,291.32 L437.73,291.15 L438.12,290.98 L438.51,290.81 L438.90,290.64 L439.29,290.46 L439.68,290.29 L440.08,290.12 L440.47,289.94 L440.86,289.77 L441.25,289.59 L441.64,289.41 L442.03,289.23 L442.42,289.06 L442.82,288.88 L443.21,288.70 L443.60,288.52 L443.99,288.33 L444.38,288.15 L444.77,287.97 L445.16,287.78 L445.55,287.60 L445.95,287.42 L446.34,287.23 L446.73,287.04 L447.12,286.86 L447.51,286.67 L447.90,286.48 L448.29,286.29 L448.69,286.10 L449.08,285.91 L449.47,285.72 L449.86,285.52 L450.25,285.33 L450.64,285.14 L451.03,284.94 L451.43,284.75 L451.82,284.55 L452.21,284.35 L452.60,284.16 L452.99,283.96 L453.38,283.76 L453.77,283.56 L454.16,283.36 L454.56,283.16 L454.95,282.96 L455.34,282.76 L455.73,282.55 L456.12,282.35 L456.51,282.15 L456.90,281.94 L457.30,281.74 L457.69,281.53 L458.08,281.32 L458.47,281.12 L458.86,280.91 L459.25,280.70 L459.64,280.49 L460.04,280.28 L460.43,280.07 L460.82,279.86 L461.21,279.65 L461.60,279.43 L461.99,279.22 L462.38,279.01 L462.77,278.79 L463.17,278.58 L463.56,278.36 L463.95,278.14 L464.34,277.93 L464.73,277.71 L465.12,277.49 L465.51,277.27 L465.91,277.05 L466.30,276.83 L466.69,276.61 L467.08,276.39 L467.47,276.17 L467.86,275.94 L468.25,275.72 L468.65,275.50 L469.04,275.27 L469.43,275.05 L469.82,274.82 L470.21,274.60 L470.60,274.37 L470.99,274.14 L471.38,273.91 L471.78,273.68 L472.17,273.45 L472.56,273.22 L472.95,272.99 L473.34,272.76 L473.73,272.53 L474.12,272.30 L474.52,272.07 L474.91,271.83 L475.30,271.60 L475.69,271.36 L476.08,271.13 L476.47,270.89 L476.86,270.66 L477.26,270.42 L477.65,270.18 L478.04,269.94 L478.43,269.70 L478.82,269.47 L479.21,269.23 L479.60,268.99 L479.99,268.74 L480.39,268.50 L480.78,268.26 L481.17,268.02 L481.56,267.78 L481.95,267.53 L482.34,267.29 L482.73,267.04 L483.13,266.80 L483.52,266.55 L483.91,266.31 L484.30,266.06 L484.69,265.81 L485.08,265.56 L485.47,265.31 L485.87,265.07 L486.26,264.82 L486.65,264.57" stroke="#800080" stroke-dasharray="8.62 3.73" stroke-linejoin="round"/>
<path d="M213.60,2.29 L213.99,43.50 L214.38,63.85 L214.77,77.52 L215.16,87.86 L215.55,96.18 L215.94,103.16 L216.33,109.18 L216.72,114.48 L217.11,119.21 L217.50,123.49 L217.90,127.40 L218.29,131.01 L218.68,134.35 L219.07,137.47 L219.46,140.39 L219.85,143.14 L220.24,145.75 L220.63,148.22 L221.02,150.57 L221.41,152.81 L221.80,154.96 L222.19,157.01 L222.58,158.99 L222.97,160.89 L223.36,162.73 L223.75,164.50 L224.15,166.21 L224.54,167.87 L224.93,169.48 L225.32,171.04 L225.71,172.55 L226.10,174.03 L226.49,175.47 L226.88,176.87 L227.27,178.23 L227.66,179.56 L228.05,180.87 L228.44,182.14 L228.83,183.38 L229.22,184.60 L229.61,185.80 L230.00,186.97 L230.40,188.11 L230.79,189.24 L231.18,190.34 L231.57,191.43 L231.96,192.49 L232.35,193.54 L232.74,194.57 L233.13,195.58 L233.52,196.58 L233.91,197.56 L234.30,198.52 L234.69,199.48 L235.08,200.41 L235.47,201.34 L235.86,202.25 L236.26,203.15 L236.65,204.03 L237.04,204.91 L237.43,205.77 L237.82,206.62 L238.21,207.46 L238.60,208.29 L238.99,209.12 L239.38,209.93 L239.77,210.73 L240.16,211.52 L240.55,212.31 L240.94,213.08 L241.33,213.85 L241.72,214.60 L242.11,215.35 L242.51,216.10 L242.90,216.83 L243.29,217.56 L243.68,218.28 L244.07,218.99 L244.46,219.70 L244.85,220.40 L245.24,221.09 L245.63,221.78 L246.02,222.46 L246.41,223.13 L246.80,223.80 L247.19,224.46 L247.58,225.11 L247.97,225.76 L248.36,226.41 L248.76,227.05 L249.15,227.68 L249.54,228.31 L249.93,228.93 L250.32,229.55 L250.71,230.17 L251.10,230.77 L251.49,231.38 L251.88,231.98 L252.27,232.57 L252.66,233.16 L253.05,233.75 L253.44,234.33 L253.83,234.90 L254.22,235.48 L254.61,236.05 L255.01,236.61 L255.40,237.17 L255.79,237.73 L256.18,238.28 L256.57,238.83 L256.96,239.37 L257.35,239.91 L257.74,240.45 L258.13,240.98 L258.52,241.51 L258.91,242.04 L259.30,242.56 L259.69,243.08 L260.08,243.60 L260.47,244.11 L260.86,244.62 L261.26,245.12 L261.65,245.63 L262.04,246.12 L262.43,246.62 L262.82,247.11 L263.21,247.60 L263.60,248.09 L263.99,248.57 L264.38,249.05 L264.77,249.53 L265.16,250.01 L265.55,250.48 L265.94,250.95 L266.33,251.41 L266.72,251.88 L267.11,252.34 L267.51,252.79 L267.90,253.25 L268.29,253.70 L268.68,254.15 L269.07,254.60 L269.46,255.04 L269.85,255.48 L270.24,255.92 L270.63,256.36 L271.02,256.79 L271.41,257.22 L271.80,257.65 L272.19,258.08 L272.58,258.50 L272.97,258.92 L273.36,259.34 L273.76,259.76 L274.15,260.17 L274.54,260.58 L274.93,260.99 L275.32,261.40 L275.71,261.80 L276.10,262.20 L276.49,262.60 L276.88,263.00 L277.27,263.39 L277.66,263.78 L278.05,264.17 L278.44,264.56 L278.83,264.95 L279.22,265.33 L279.61,265.71 L280.01,266.09 L280.40,266.47 L280.79,266.84 L281.18,267.22 L281.57,267.59 L281.96,267.95 L282.35,268.32 L282.74,268.68 L283.13,269.04 L283.52,269.40 L283.91,269.76 L284.30,270.12 L284.69,270.47 L285.08,270.82 L285.47,271.17 L285.86,271.52 L286.26,271.86 L286.65,272.20 L287.04,272.54 L287.43,272.88 L287.82,273.22 L288.21,273.56 L288.60,273.89 L288.99,274.22 L289.38,274.55 L289.77,274.87 L290.16,275.20 L290.55,275.52 L290.94,275.84 L291.33,276.16 L291.72,276.48 L292.11,276.79 L292.51,277.11 L292.90,277.42 L293.29,277.73 L293.68,278.03 L294.07,278.34 L294.46,278.64 L294.85,278.94 L295.24,279.24 L295.63,279.54 L296.02,279.84 L296.41,280.13 L296.80,280.42 L297.19,280.71 L297.58,281.00 L297.97,281.29 L298.36,281.57 L298.76,281.85 L299.15,282.13 L299.54,282.41 L299.93,282.69 L300.32,282.96 L300.71,283.24 L301.10,283.51 L301.49,283.78 L301.88,284.05 L302.27,284.31 L302.66,284.58 L303.05,284.84 L303.44,285.10 L303.83,285.36 L304.22,285.62 L304.62,285.87 L305.01,286.13 L305.40,286.38 L305.79,286.63 L306.18,286.87 L306.57,287.12 L306.96,287.37 L307.35,287.61 L307.74,287.85 L308.13,288.09 L308.52,288.33 L308.91,288.56 L309.30,288.80 L309.69,289.03 L310.08,289.26 L310.47,289.49 L310.87,289.72 L311.26,289.94 L311.65,290.16 L312.04,290.39 L312.43,290.61 L312.82,290.83 L313.21,291.04 L313.60,291.26 L313.99,291.47 L314.38,291.68 L314.77,291.89 L315.16,292.10 L315.55,292.31 L315.94,292.51 L316.33,292.72 L316.72,292.92 L317.12,293.12 L317.51,293.31 L317.90,293.51 L318.29,293.71 L318.68,293.90 L319.07,294.09 L319.46,294.28 L319.85,294.47 L320.24,294.66 L320.63,294.84 L321.02,295.02 L321.41,295.20 L321.80,295.38 L322.19,295.56 L322.58,295.74 L322.97,295.91 L323.37,296.09 L323.76,296.26 L324.15,296.43 L324.54,296.60 L324.93,296.77 L325.32,296.93 L325.71,297.09 L326.10,297.26 L326.49,297.42 L326.88,297.58 L327.27,297.73 L327.66,297.89 L328.05,298.04 L328.44,298.20 L328.83,298.35 L329.22,298.50 L329.62,298.64 L330.01,298.79 L330.40,298.93 L330.79,299.08 L331.18,299.22 L331.57,299.36 L331.96,299.50 L332.35,299.63 L332.74,299.77 L333.13,299.90 L333.52,300.04 L333.91,300.17 L334.30,300.30 L334.69,300.42 L335.08,300.55 L335.47,300.67 L335.87,300.80 L336.26,300.92 L336.65,301.04 L337.04,301.16 L337.43,301.27 L337.82,301.39 L338.21,301.50 L338.60,301.61 L338.99,301.73 L339.38,301.83 L339.77,301.94 L340.16,302.05 L340.55,302.15 L340.94,302.26 L341.33,302.36 L341.72,302.46 L342.12,302.56 L342.51,302.66 L342.90,302.75 L343.29,302.85 L343.68,302.94 L344.07,303.03 L344.46,303.12 L344.85,303.21 L345.24,303.30 L345.63,303.38 L346.02,303.47 L346.41,303.55 L346.80,303.63 L347.19,303.71 L347.58,303.79 L347.97,303.87 L348.37,303.94 L348.76,304.02 L349.15,304.09 L349.54,304.16 L349.93,304.23 L350.32,304.30 L350.71,304.37 L351.10,304.43 L351.49,304.50 L351.88,304.56 L352.27,304.62 L352.66,304.68 L353.05,304.74 L353.44,304.80 L353.83,304.86 L354.22,304.91 L354.62,304.97 L355.01,305.02 L355.40,305.07 L355.79,305.12 L356.18,305.17 L356.57,305.21 L356.96,305.26 L357.35,305.30 L357.74,305.34 L358.13,305.39 L358.52,305.43 L358.91,305.46 L359.30,305.50 L359.69,305.54 L360.08,305.57 L360.47,305.61 L360.87,305.64 L361.26,305.67 L361.65,305.70 L362.04,305.73 L362.43,305.75 L362.82,305.78 L363.21,305.80 L363.60,305.83 L363.99,305.85 L364.38,305.87 L364.77,305.89 L365.16,305.90 L365.55,305.92 L365.94,305.94 L366.33,305.95 L366.73,305.96 L367.12,305.97 L367.51,305.98 L367.90,305.99 L368.29,306.00 L368.68,306.01 L369.07,306.01 L369.46,306.02 L369.85,306.02 L370.24,306.02 L370.63,306.02 L371.02,306.02 L371.41,306.02 L371.80,306.01 L372.19,306.01 L372.58,306.00 L372.98,306.00 L373.37,305.99 L373.76,305.98 L374.15,305.97 L374.54,305.95 L374.93,305.94 L375.32,305.93 L375.71,305.91 L376.10,305.89 L376.49,305.88 L376.88,305.86 L377.27,305.84 L377.66,305.82 L378.05,305.79 L378.44,305.77 L378.83,305.74 L379.23,305.72 L379.62,305.69 L380.01,305.66 L380.40,305.63 L380.79,305.60 L381.18,305.57 L381.57,305.54 L381.96,305.50 L382.35,305.47 L382.74,305.43 L383.13,305.39 L383.52,305.35 L383.91,305.31 L384.30,305.27 L384.69,305.23 L385.08,305.19 L385.48,305.14 L385.87,305.10 L386.26,305.05 L386.65,305.00 L387.04,304.95 L387.43,304.90 L387.82,304.85 L388.21,304.80 L388.60,304.75 L388.99,304.69 L389.38,304.64 L389.77,304.58 L390.16,304.52 L390.55,304.47 L390.94,304.41 L391.33,304.35 L391.73,304.28 L392.12,304.22 L392.51,304.16 L392.90,304.09 L393.29,304.03 L393.68,303.96 L394.07,303.89 L394.46,303.82 L394.85,303.75 L395.24,303.68 L395.63,303.61 L396.02,303.53 L396.41,303.46 L396.80,303.38 L397.19,303.31 L397.58,303.23 L397.98,303.15 L398.37,303.07 L398.76,302.99 L399.15,302.91 L399.54,302.83 L399.93,302.74 L400.32,302.66 L400.71,302.57 L401.10,302.49 L401.49,302.40 L401.88,302.31 L402.27,302.22 L402.66,302.13 L403.05,302.04 L403.44,301.95 L403.83,301.85 L404.23,301.76 L404.62,301.66 L405.01,301.57 L405.40,301.47 L405.79,301.37 L406.18,301.27 L406.57,301.17 L406.96,301.07 L407.35,300.97 L407.74,300.86 L408.13,300.76 L408.52,300.65 L408.91,300.55 L409.30,300.44 L409.69,300.33 L410.08,300.22 L410.48,300.11 L410.87,300.00 L411.26,299.89 L411.65,299.78 L412.04,299.67 L412.43,299.55 L412.82,299.44 L413.21,299.32 L413.60,299.20 L413.99,299.08 L414.38,298.97 L414.77,298.85 L415.16,298.72 L415.55,298.60 L415.94,298.48 L416.33,298.36 L416.73,298.23 L417.12,298.11 L417.51,297.98 L417.90,297.85 L418.29,297.73 L418.68,297.60 L419.07,297.47 L419.46,297.34 L419.85,297.20 L420.24,297.07 L420.63,296.94 L421.02,296.81 L421.41,296.67 L421.80,296.53 L422.19,296.40 L422.58,296.26 L422.98,296.12 L423.37,295.98 L423.76,295.84 L424.15,295.70 L424.54,295.56 L424.93,295.42 L425.32,295.27 L425.71,295.13 L426.10,294.98 L426.49,294.84 L426.88,294.69 L427.27,294.54 L427.66,294.39 L428.05,294.24 L428.44,294.09 L428.83,293.94 L429.23,293.79 L429.62,293.64 L430.01,293.49 L430.40,293.33 L430.79,293.18 L431.18,293.02 L431.57,292.86 L431.96,292.71 L432.35,292.55 L432.74,292.39 L433.13,292.23 L433.52,292.07 L433.91,291.91 L434.30,291.74 L434.69,291.58 L435.09,291.42 L435.48,291.25 L435.87,291.09 L436.26,290.92 L436.65,290.75 L437.04,290.59 L437.43,290.42 L437.82,290.25 L438.21,290.08 L438.60,289.91 L438.99,289.74 L439.38,289.56 L439.77,289.39 L440.16,289.22 L440.55,289.04 L440.94,288.87 L441.34,288.69 L441.73,288.51 L442.12,288.34 L442.51,288.16 L442.90,287.98 L443.29,287.80 L443.68,287.62 L444.07,287.44 L444.46,287.25 L444.85,287.07 L445.24,286.89 L445.63,286.70 L446.02,286.52 L446.41,286.33 L446.80,286.15 L447.19,285.96 L447.59,285.77 L447.98,285.58 L448.37,285.39 L448.76,285.20 L449.15,285.01 L449.54,284.82 L449.93,284.63 L450.32,284.43 L450.71,284.24 L451.10,284.05 L451.49,283.85 L451.88,283.66 L452.27,283.46 L452.66,283.26 L453.05,283.07 L453.44,282.87 L453.84,282.67 L454.23,282.47 L454.62,282.27 L455.01,282.07 L455.40,281.86 L455.79,281.66 L456.18,281.46 L456.57,281.25 L456.96,281.05 L457.35,280.85 L457.74,280.64 L458.13,280.43 L458.52,280.23 L458.91,280.02 L459.30,279.81 L459.69,279.60 L460.09,279.39 L460.48,279.18 L460.87,278.97 L461.26,278.76 L461.65,278.54 L462.04,278.33 L462.43,278.12 L462.82,277.90 L463.21,277.69 L463.60,277.47 L463.99,277.26 L464.38,277.04 L464.77,276.82 L465.16,276.60 L465.55,276.39 L465.94,276.17 L466.34,275.95 L466.73,275.73 L467.12,275.50 L467.51,275.28 L467.90,275.06 L468.29,274.84 L468.68,274.61 L469.07,274.39 L469.46,274.16 L469.85,273.94 L470.24,273.71 L470.63,273.49 L471.02,273.26 L471.41,273.03 L471.80,272.80 L472.19,272.57 L472.59,272.34 L472.98,272.11 L473.37,271.88 L473.76,271.65 L474.15,271.42 L474.54,271.19 L474.93,270.95 L475.32,270.72 L475.71,270.48 L476.10,270.25 L476.49,270.01 L476.88,269.78 L477.27,269.54 L477.66,269.30 L478.05,269.07 L478.44,268.83 L478.84,268.59 L479.23,268.35 L479.62,268.11 L480.01,267.87 L480.40,267.63 L480.79,267.39 L481.18,267.14 L481.57,266.90 L481.96,266.66 L482.35,266.41 L482.74,266.17 L483.13,265.92 L483.52,265.68 L483.91,265.43 L484.30,265.19 L484.69,264.94 L485.09,264.69 L485.48,264.44 L485.87,264.20 L486.26,263.95 L486.65,263.70" stroke="#800080" stroke-linecap="square" stroke-linejoin="round"/>
<path d="M201.44,2.29 L201.85,48.10 L202.26,69.45 L202.67,83.57 L203.07,94.17 L203.48,102.67 L203.89,109.79 L204.30,115.91 L204.71,121.30 L205.11,126.11 L205.52,130.46 L205.93,134.43 L206.34,138.09 L206.75,141.48 L207.15,144.65 L207.56,147.62 L207.97,150.42 L208.38,153.07 L208.79,155.58 L209.19,157.98 L209.60,160.26 L210.01,162.45 L210.42,164.54 L210.83,166.56 L211.23,168.50 L211.64,170.37 L212.05,172.18 L212.46,173.93 L212.87,175.62 L213.27,177.27 L213.68,178.87 L214.09,180.42 L214.50,181.93 L214.91,183.40 L215.31,184.84 L215.72,186.24 L216.13,187.61 L216.54,188.95 L216.95,190.26 L217.35,191.54 L217.76,192.79 L218.17,194.02 L218.58,195.23 L218.99,196.41 L219.39,197.57 L219.80,198.71 L220.21,199.84 L220.62,200.94 L221.03,202.02 L221.43,203.09 L221.84,204.14 L222.25,205.17 L222.66,206.19 L223.07,207.19 L223.47,208.18 L223.88,209.15 L224.29,210.11 L224.70,211.06 L225.11,211.99 L225.51,212.92 L225.92,213.83 L226.33,214.73 L226.74,215.62 L227.15,216.50 L227.55,217.36 L227.96,218.22 L228.37,219.07 L228.78,219.91 L229.19,220.74 L229.59,221.56 L230.00,222.37 L230.41,223.18 L230.82,223.98 L231.23,224.76 L231.64,225.54 L232.04,226.32 L232.45,227.08 L232.86,227.84 L233.27,228.59 L233.68,229.33 L234.08,230.07 L234.49,230.80 L234.90,231.53 L235.31,232.25 L235.72,232.96 L236.12,233.67 L236.53,234.37 L236.94,235.06 L237.35,235.75 L237.76,236.43 L238.16,237.11 L238.57,237.78 L238.98,238.45 L239.39,239.11 L239.80,239.77 L240.20,240.42 L240.61,241.07 L241.02,241.72 L241.43,242.35 L241.84,242.99 L242.24,243.62 L242.65,244.24 L243.06,244.86 L243.47,245.48 L243.88,246.09 L244.28,246.70 L244.69,247.31 L245.10,247.91 L245.51,248.50 L245.92,249.09 L246.32,249.68 L246.73,250.27 L247.14,250.85 L247.55,251.43 L247.96,252.00 L248.36,252.57 L248.77,253.14 L249.18,253.70 L249.59,254.26 L250.00,254.82 L250.40,255.37 L250.81,255.92 L251.22,256.47 L251.63,257.01 L252.04,257.55 L252.44,258.09 L252.85,258.62 L253.26,259.15 L253.67,259.68 L254.08,260.21 L254.48,260.73 L254.89,261.25 L255.30,261.76 L255.71,262.28 L256.12,262.79 L256.52,263.29 L256.93,263.80 L257.34,264.30 L257.75,264.80 L258.16,265.29 L258.56,265.79 L258.97,266.28 L259.38,266.77 L259.79,267.25 L260.20,267.74 L260.60,268.22 L261.01,268.69 L261.42,269.17 L261.83,269.64 L262.24,270.11 L262.64,270.58 L263.05,271.04 L263.46,271.51 L263.87,271.97 L264.28,272.43 L264.68,272.88 L265.09,273.33 L265.50,273.78 L265.91,274.23 L266.32,274.68 L266.72,275.12 L267.13,275.56 L267.54,276.00 L267.95,276.44 L268.36,276.87 L268.76,277.30 L269.17,277.73 L269.58,278.16 L269.99,278.59 L270.40,279.01 L270.81,279.43 L271.21,279.85 L271.62,280.26 L272.03,280.68 L272.44,281.09 L272.85,281.50 L273.25,281.91 L273.66,282.31 L274.07,282.72 L274.48,283.12 L274.89,283.52 L275.29,283.91 L275.70,284.31 L276.11,284.70 L276.52,285.09 L276.93,285.48 L277.33,285.87 L277.74,286.25 L278.15,286.63 L278.56,287.01 L278.97,287.39 L279.37,287.77 L279.78,288.14 L280.19,288.51 L280.60,288.88 L281.01,289.25 L281.41,289.62 L281.82,289.98 L282.23,290.34 L282.64,290.70 L283.05,291.06 L283.45,291.42 L283.86,291.77 L284.27,292.12 L284.68,292.47 L285.09,292.82 L285.49,293.17 L285.90,293.51 L286.31,293.85 L286.72,294.19 L287.13,294.53 L287.53,294.87 L287.94,295.20 L288.35,295.53 L288.76,295.86 L289.17,296.19 L289.57,296.52 L289.98,296.84 L290.39,297.16 L290.80,297.48 L291.21,297.80 L291.61,298.12 L292.02,298.43 L292.43,298.75 L292.84,299.06 L293.25,299.37 L293.65,299.68 L294.06,299.98 L294.47,300.28 L294.88,300.59 L295.29,300.89 L295.69,301.18 L296.10,301.48 L296.51,301.77 L296.92,302.07 L297.33,302.36 L297.73,302.65 L298.14,302.93 L298.55,303.22 L298.96,303.50 L299.37,303.78 L299.77,304.06 L300.18,304.34 L300.59,304.61 L301.00,304.89 L301.41,305.16 L301.81,305.43 L302.22,305.70 L302.63,305.96 L303.04,306.23 L303.45,306.49 L303.85,306.75 L304.26,307.01 L304.67,307.27 L305.08,307.52 L305.49,307.78 L305.89,308.03 L306.30,308.28 L306.71,308.52 L307.12,308.77 L307.53,309.02 L307.93,309.26 L308.34,309.50 L308.75,309.74 L309.16,309.98 L309.57,310.21 L309.98,310.44 L310.38,310.68 L310.79,310.91 L311.20,311.13 L311.61,311.36 L312.02,311.59 L312.42,311.81 L312.83,312.03 L313.24,312.25 L313.65,312.47 L314.06,312.68 L314.46,312.90 L314.87,313.11 L315.28,313.32 L315.69,313.53 L316.10,313.74 L316.50,313.94 L316.91,314.14 L317.32,314.35 L317.73,314.55 L318.14,314.74 L318.54,314.94 L318.95,315.14 L319.36,315.33 L319.77,315.52 L320.18,315.71 L320.58,315.90 L320.99,316.08 L321.40,316.27 L321.81,316.45 L322.22,316.63 L322.62,316.81 L323.03,316.99 L323.44,317.16 L323.85,317.34 L324.26,317.51 L324.66,317.68 L325.07,317.85 L325.48,318.02 L325.89,318.18 L326.30,318.35 L326.70,318.51 L327.11,318.67 L327.52,318.83 L327.93,318.99 L328.34,319.14 L328.74,319.30 L329.15,319.45 L329.56,319.60 L329.97,319.75 L330.38,319.90 L330.78,320.04 L331.19,320.18 L331.60,320.33 L332.01,320.47 L332.42,320.61 L332.82,320.74 L333.23,320.88 L333.64,321.01 L334.05,321.15 L334.46,321.28 L334.86,321.41 L335.27,321.53 L335.68,321.66 L336.09,321.78 L336.50,321.91 L336.90,322.03 L337.31,322.15 L337.72,322.26 L338.13,322.38 L338.54,322.49 L338.94,322.61 L339.35,322.72 L339.76,322.83 L340.17,322.94 L340.58,323.04 L340.98,323.15 L341.39,323.25 L341.80,323.35 L342.21,323.45 L342.62,323.55 L343.02,323.65 L343.43,323.74 L343.84,323.84 L344.25,323.93 L344.66,324.02 L345.06,324.11 L345.47,324.20 L345.88,324.29 L346.29,324.37 L346.70,324.45 L347.10,324.54 L347.51,324.62 L347.92,324.69 L348.33,324.77 L348.74,324.85 L349.15,324.92 L349.55,324.99 L349.96,325.06 L350.37,325.13 L350.78,325.20 L351.19,325.27 L351.59,325.33 L352.00,325.40 L352.41,325.46 L352.82,325.52 L353.23,325.58 L353.63,325.64 L354.04,325.69 L354.45,325.75 L354.86,325.80 L355.27,325.85 L355.67,325.90 L356.08,325.95 L356.49,326.00 L356.90,326.04 L357.31,326.09 L357.71,326.13 L358.12,326.17 L358.53,326.21 L358.94,326.25 L359.35,326.29 L359.75,326.32 L360.16,326.36 L360.57,326.39 L360.98,326.42 L361.39,326.45 L361.79,326.48 L362.20,326.51 L362.61,326.54 L363.02,326.56 L363.43,326.58 L363.83,326.60 L364.24,326.63 L364.65,326.64 L365.06,326.66 L365.47,326.68 L365.87,326.69 L366.28,326.71 L366.69,326.72 L367.10,326.73 L367.51,326.74 L367.91,326.75 L368.32,326.75 L368.73,326.76 L369.14,326.76 L369.55,326.77 L369.95,326.77 L370.36,326.77 L370.77,326.77 L371.18,326.76 L371.59,326.76 L371.99,326.75 L372.40,326.75 L372.81,326.74 L373.22,326.73 L373.63,326.72 L374.03,326.71 L374.44,326.69 L374.85,326.68 L375.26,326.66 L375.67,326.65 L376.07,326.63 L376.48,326.61 L376.89,326.59 L377.30,326.57 L377.71,326.54 L378.11,326.52 L378.52,326.49 L378.93,326.47 L379.34,326.44 L379.75,326.41 L380.15,326.38 L380.56,326.34 L380.97,326.31 L381.38,326.28 L381.79,326.24 L382.19,326.20 L382.60,326.17 L383.01,326.13 L383.42,326.08 L383.83,326.04 L384.23,326.00 L384.64,325.96 L385.05,325.91 L385.46,325.86 L385.87,325.81 L386.27,325.77 L386.68,325.72 L387.09,325.66 L387.50,325.61 L387.91,325.56 L388.32,325.50 L388.72,325.45 L389.13,325.39 L389.54,325.33 L389.95,325.27 L390.36,325.21 L390.76,325.15 L391.17,325.08 L391.58,325.02 L391.99,324.95 L392.40,324.89 L392.80,324.82 L393.21,324.75 L393.62,324.68 L394.03,324.61 L394.44,324.53 L394.84,324.46 L395.25,324.39 L395.66,324.31 L396.07,324.23 L396.48,324.16 L396.88,324.08 L397.29,324.00 L397.70,323.91 L398.11,323.83 L398.52,323.75 L398.92,323.66 L399.33,323.58 L399.74,323.49 L400.15,323.40 L400.56,323.31 L400.96,323.22 L401.37,323.13 L401.78,323.04 L402.19,322.95 L402.60,322.85 L403.00,322.76 L403.41,322.66 L403.82,322.56 L404.23,322.46 L404.64,322.36 L405.04,322.26 L405.45,322.16 L405.86,322.06 L406.27,321.95 L406.68,321.85 L407.08,321.74 L407.49,321.64 L407.90,321.53 L408.31,321.42 L408.72,321.31 L409.12,321.20 L409.53,321.09 L409.94,320.97 L410.35,320.86 L410.76,320.74 L411.16,320.63 L411.57,320.51 L411.98,320.39 L412.39,320.27 L412.80,320.15 L413.20,320.03 L413.61,319.91 L414.02,319.78 L414.43,319.66 L414.84,319.54 L415.24,319.41 L415.65,319.28 L416.06,319.15 L416.47,319.03 L416.88,318.90 L417.28,318.76 L417.69,318.63 L418.10,318.50 L418.51,318.37 L418.92,318.23 L419.32,318.09 L419.73,317.96 L420.14,317.82 L420.55,317.68 L420.96,317.54 L421.36,317.40 L421.77,317.26 L422.18,317.12 L422.59,316.97 L423.00,316.83 L423.40,316.69 L423.81,316.54 L424.22,316.39 L424.63,316.24 L425.04,316.10 L425.44,315.95 L425.85,315.80 L426.26,315.64 L426.67,315.49 L427.08,315.34 L427.49,315.18 L427.89,315.03 L428.30,314.87 L428.71,314.72 L429.12,314.56 L429.53,314.40 L429.93,314.24 L430.34,314.08 L430.75,313.92 L431.16,313.76 L431.57,313.59 L431.97,313.43 L432.38,313.26 L432.79,313.10 L433.20,312.93 L433.61,312.77 L434.01,312.60 L434.42,312.43 L434.83,312.26 L435.24,312.09 L435.65,311.92 L436.05,311.74 L436.46,311.57 L436.87,311.40 L437.28,311.22 L437.69,311.05 L438.09,310.87 L438.50,310.69 L438.91,310.51 L439.32,310.33 L439.73,310.15 L440.13,309.97 L440.54,309.79 L440.95,309.61 L441.36,309.43 L441.77,309.24 L442.17,309.06 L442.58,308.87 L442.99,308.69 L443.40,308.50 L443.81,308.31 L444.21,308.12 L444.62,307.93 L445.03,307.74 L445.44,307.55 L445.85,307.36 L446.25,307.17 L446.66,306.97 L447.07,306.78 L447.48,306.58 L447.89,306.39 L448.29,306.19 L448.70,305.99 L449.11,305.80 L449.52,305.60 L449.93,305.40 L450.33,305.20 L450.74,305.00 L451.15,304.79 L451.56,304.59 L451.97,304.39 L452.37,304.18 L452.78,303.98 L453.19,303.77 L453.60,303.57 L454.01,303.36 L454.41,303.15 L454.82,302.94 L455.23,302.74 L455.64,302.53 L456.05,302.31 L456.45,302.10 L456.86,301.89 L457.27,301.68 L457.68,301.46 L458.09,301.25 L458.49,301.04 L458.90,300.82 L459.31,300.60 L459.72,300.39 L460.13,300.17 L460.53,299.95 L460.94,299.73 L461.35,299.51 L461.76,299.29 L462.17,299.07 L462.57,298.85 L462.98,298.62 L463.39,298.40 L463.80,298.18 L464.21,297.95 L464.61,297.73 L465.02,297.50 L465.43,297.27 L465.84,297.05 L466.25,296.82 L466.65,296.59 L467.06,296.36 L467.47,296.13 L467.88,295.90 L468.29,295.67 L468.70,295.44 L469.10,295.20 L469.51,294.97 L469.92,294.74 L470.33,294.50 L470.74,294.27 L471.14,294.03 L471.55,293.80 L471.96,293.56 L472.37,293.32 L472.78,293.08 L473.18,292.84 L473.59,292.60 L474.00,292.36 L474.41,292.12 L474.82,291.88 L475.22,291.64 L475.63,291.40 L476.04,291.15 L476.45,290.91 L476.86,290.66 L477.26,290.42 L477.67,290.17 L478.08,289.93 L478.49,289.68 L478.90,289.43 L479.30,289.18 L479.71,288.94 L480.12,288.69 L480.53,288.44 L480.94,288.19 L481.34,287.94 L481.75,287.68 L482.16,287.43 L482.57,287.18 L482.98,286.93 L483.38,286.67 L483.79,286.42 L484.20,286.16 L484.61,285.91 L485.02,285.65 L485.42,285.39 L485.83,285.14 L486.24,284.88 L486.65,284.62" stroke="#6a5acd" stroke-dasharray="8.62 3.73" stroke-linejoin="round"/>
<path d="M202.68,2.29 L203.09,47.62 L203.49,68.87 L203.90,82.95 L204.31,93.52 L204.71,102.01 L205.12,109.11 L205.53,115.23 L205.93,120.61 L206.34,125.41 L206.74,129.75 L207.15,133.72 L207.56,137.37 L207.96,140.76 L208.37,143.92 L208.78,146.89 L209.18,149.69 L209.59,152.33 L209.99,154.84 L210.40,157.23 L210.81,159.51 L211.21,161.69 L211.62,163.78 L212.03,165.79 L212.43,167.73 L212.84,169.60 L213.24,171.40 L213.65,173.15 L214.06,174.84 L214.46,176.48 L214.87,178.07 L215.28,179.62 L215.68,181.13 L216.09,182.60 L216.49,184.03 L216.90,185.43 L217.31,186.80 L217.71,188.13 L218.12,189.43 L218.53,190.71 L218.93,191.96 L219.34,193.19 L219.74,194.39 L220.15,195.57 L220.56,196.73 L220.96,197.86 L221.37,198.98 L221.78,200.08 L222.18,201.16 L222.59,202.22 L222.99,203.27 L223.40,204.30 L223.81,205.31 L224.21,206.31 L224.62,207.29 L225.03,208.26 L225.43,209.22 L225.84,210.16 L226.24,211.09 L226.65,212.01 L227.06,212.92 L227.46,213.82 L227.87,214.70 L228.28,215.58 L228.68,216.44 L229.09,217.30 L229.49,218.14 L229.90,218.98 L230.31,219.80 L230.71,220.62 L231.12,221.43 L231.53,222.23 L231.93,223.02 L232.34,223.81 L232.74,224.58 L233.15,225.35 L233.56,226.11 L233.96,226.87 L234.37,227.61 L234.78,228.35 L235.18,229.09 L235.59,229.81 L235.99,230.54 L236.40,231.25 L236.81,231.96 L237.21,232.66 L237.62,233.36 L238.03,234.05 L238.43,234.73 L238.84,235.41 L239.24,236.09 L239.65,236.76 L240.06,237.42 L240.46,238.08 L240.87,238.73 L241.28,239.38 L241.68,240.02 L242.09,240.66 L242.49,241.30 L242.90,241.93 L243.31,242.55 L243.71,243.17 L244.12,243.79 L244.53,244.40 L244.93,245.01 L245.34,245.62 L245.74,246.22 L246.15,246.81 L246.56,247.40 L246.96,247.99 L247.37,248.58 L247.78,249.16 L248.18,249.73 L248.59,250.31 L248.99,250.88 L249.40,251.44 L249.81,252.01 L250.21,252.56 L250.62,253.12 L251.03,253.67 L251.43,254.22 L251.84,254.77 L252.24,255.31 L252.65,255.85 L253.06,256.38 L253.46,256.92 L253.87,257.45 L254.28,257.97 L254.68,258.50 L255.09,259.02 L255.49,259.54 L255.90,260.05 L256.31,260.56 L256.71,261.07 L257.12,261.58 L257.52,262.08 L257.93,262.58 L258.34,263.08 L258.74,263.57 L259.15,264.06 L259.56,264.55 L259.96,265.04 L260.37,265.52 L260.77,266.00 L261.18,266.48 L261.59,266.96 L261.99,267.43 L262.40,267.90 L262.81,268.37 L263.21,268.84 L263.62,269.30 L264.02,269.76 L264.43,270.22 L264.84,270.68 L265.24,271.13 L265.65,271.58 L266.06,272.03 L266.46,272.48 L266.87,272.92 L267.27,273.36 L267.68,273.80 L268.09,274.24 L268.49,274.67 L268.90,275.10 L269.31,275.53 L269.71,275.96 L270.12,276.39 L270.52,276.81 L270.93,277.23 L271.34,277.65 L271.74,278.06 L272.15,278.48 L272.56,278.89 L272.96,279.30 L273.37,279.71 L273.77,280.11 L274.18,280.52 L274.59,280.92 L274.99,281.32 L275.40,281.71 L275.81,282.11 L276.21,282.50 L276.62,282.89 L277.02,283.28 L277.43,283.67 L277.84,284.05 L278.24,284.43 L278.65,284.81 L279.06,285.19 L279.46,285.56 L279.87,285.94 L280.27,286.31 L280.68,286.68 L281.09,287.05 L281.49,287.41 L281.90,287.78 L282.31,288.14 L282.71,288.50 L283.12,288.86 L283.52,289.21 L283.93,289.56 L284.34,289.92 L284.74,290.27 L285.15,290.61 L285.56,290.96 L285.96,291.30 L286.37,291.64 L286.77,291.98 L287.18,292.32 L287.59,292.66 L287.99,292.99 L288.40,293.32 L288.81,293.65 L289.21,293.98 L289.62,294.31 L290.02,294.63 L290.43,294.95 L290.84,295.27 L291.24,295.59 L291.65,295.91 L292.06,296.22 L292.46,296.54 L292.87,296.85 L293.27,297.15 L293.68,297.46 L294.09,297.77 L294.49,298.07 L294.90,298.37 L295.31,298.67 L295.71,298.97 L296.12,299.26 L296.52,299.56 L296.93,299.85 L297.34,300.14 L297.74,300.43 L298.15,300.71 L298.56,301.00 L298.96,301.28 L299.37,301.56 L299.77,301.84 L300.18,302.12 L300.59,302.39 L300.99,302.67 L301.40,302.94 L301.81,303.21 L302.21,303.47 L302.62,303.74 L303.02,304.01 L303.43,304.27 L303.84,304.53 L304.24,304.79 L304.65,305.04 L305.06,305.30 L305.46,305.55 L305.87,305.80 L306.27,306.05 L306.68,306.30 L307.09,306.55 L307.49,306.79 L307.90,307.03 L308.31,307.27 L308.71,307.51 L309.12,307.75 L309.52,307.99 L309.93,308.22 L310.34,308.45 L310.74,308.68 L311.15,308.91 L311.56,309.13 L311.96,309.36 L312.37,309.58 L312.77,309.80 L313.18,310.02 L313.59,310.24 L313.99,310.46 L314.40,310.67 L314.81,310.88 L315.21,311.09 L315.62,311.30 L316.02,311.51 L316.43,311.71 L316.84,311.92 L317.24,312.12 L317.65,312.32 L318.06,312.52 L318.46,312.71 L318.87,312.91 L319.27,313.10 L319.68,313.29 L320.09,313.48 L320.49,313.67 L320.90,313.86 L321.31,314.04 L321.71,314.22 L322.12,314.40 L322.52,314.58 L322.93,314.76 L323.34,314.94 L323.74,315.11 L324.15,315.28 L324.56,315.45 L324.96,315.62 L325.37,315.79 L325.77,315.96 L326.18,316.12 L326.59,316.28 L326.99,316.44 L327.40,316.60 L327.81,316.76 L328.21,316.92 L328.62,317.07 L329.02,317.22 L329.43,317.37 L329.84,317.52 L330.24,317.67 L330.65,317.82 L331.06,317.96 L331.46,318.10 L331.87,318.24 L332.27,318.38 L332.68,318.52 L333.09,318.66 L333.49,318.79 L333.90,318.92 L334.31,319.05 L334.71,319.18 L335.12,319.31 L335.52,319.44 L335.93,319.56 L336.34,319.68 L336.74,319.81 L337.15,319.93 L337.56,320.04 L337.96,320.16 L338.37,320.28 L338.77,320.39 L339.18,320.50 L339.59,320.61 L339.99,320.72 L340.40,320.83 L340.81,320.93 L341.21,321.04 L341.62,321.14 L342.02,321.24 L342.43,321.34 L342.84,321.44 L343.24,321.53 L343.65,321.63 L344.06,321.72 L344.46,321.81 L344.87,321.90 L345.27,321.99 L345.68,322.08 L346.09,322.16 L346.49,322.24 L346.90,322.33 L347.31,322.41 L347.71,322.49 L348.12,322.56 L348.52,322.64 L348.93,322.72 L349.34,322.79 L349.74,322.86 L350.15,322.93 L350.56,323.00 L350.96,323.07 L351.37,323.13 L351.77,323.20 L352.18,323.26 L352.59,323.32 L352.99,323.38 L353.40,323.44 L353.81,323.50 L354.21,323.55 L354.62,323.60 L355.02,323.66 L355.43,323.71 L355.84,323.76 L356.24,323.81 L356.65,323.85 L357.06,323.90 L357.46,323.94 L357.87,323.98 L358.27,324.02 L358.68,324.06 L359.09,324.10 L359.49,324.14 L359.90,324.17 L360.31,324.21 L360.71,324.24 L361.12,324.27 L361.52,324.30 L361.93,324.33 L362.34,324.36 L362.74,324.38 L363.15,324.41 L363.56,324.43 L363.96,324.45 L364.37,324.47 L364.77,324.49 L365.18,324.51 L365.59,324.52 L365.99,324.54 L366.40,324.55 L366.81,324.56 L367.21,324.57 L367.62,324.58 L368.02,324.59 L368.43,324.60 L368.84,324.60 L369.24,324.60 L369.65,324.61 L370.06,324.61 L370.46,324.61 L370.87,324.61 L371.27,324.60 L371.68,324.60 L372.09,324.59 L372.49,324.59 L372.90,324.58 L373.31,324.57 L373.71,324.56 L374.12,324.55 L374.52,324.53 L374.93,324.52 L375.34,324.50 L375.74,324.49 L376.15,324.47 L376.56,324.45 L376.96,324.43 L377.37,324.40 L377.77,324.38 L378.18,324.36 L378.59,324.33 L378.99,324.30 L379.40,324.28 L379.81,324.25 L380.21,324.21 L380.62,324.18 L381.02,324.15 L381.43,324.11 L381.84,324.08 L382.24,324.04 L382.65,324.00 L383.06,323.96 L383.46,323.92 L383.87,323.88 L384.27,323.84 L384.68,323.79 L385.09,323.75 L385.49,323.70 L385.90,323.65 L386.31,323.60 L386.71,323.55 L387.12,323.50 L387.52,323.45 L387.93,323.40 L388.34,323.34 L388.74,323.29 L389.15,323.23 L389.56,323.17 L389.96,323.11 L390.37,323.05 L390.77,322.99 L391.18,322.92 L391.59,322.86 L391.99,322.79 L392.40,322.73 L392.81,322.66 L393.21,322.59 L393.62,322.52 L394.02,322.45 L394.43,322.38 L394.84,322.31 L395.24,322.23 L395.65,322.16 L396.06,322.08 L396.46,322.00 L396.87,321.92 L397.27,321.84 L397.68,321.76 L398.09,321.68 L398.49,321.60 L398.90,321.51 L399.31,321.43 L399.71,321.34 L400.12,321.25 L400.52,321.16 L400.93,321.07 L401.34,320.98 L401.74,320.89 L402.15,320.80 L402.55,320.71 L402.96,320.61 L403.37,320.51 L403.77,320.42 L404.18,320.32 L404.59,320.22 L404.99,320.12 L405.40,320.02 L405.80,319.92 L406.21,319.81 L406.62,319.71 L407.02,319.60 L407.43,319.50 L407.84,319.39 L408.24,319.28 L408.65,319.17 L409.05,319.06 L409.46,318.95 L409.87,318.84 L410.27,318.72 L410.68,318.61 L411.09,318.49 L411.49,318.38 L411.90,318.26 L412.30,318.14 L412.71,318.02 L413.12,317.90 L413.52,317.78 L413.93,317.66 L414.34,317.53 L414.74,317.41 L415.15,317.28 L415.55,317.16 L415.96,317.03 L416.37,316.90 L416.77,316.77 L417.18,316.64 L417.59,316.51 L417.99,316.38 L418.40,316.24 L418.80,316.11 L419.21,315.98 L419.62,315.84 L420.02,315.70 L420.43,315.57 L420.84,315.43 L421.24,315.29 L421.65,315.15 L422.05,315.01 L422.46,314.86 L422.87,314.72 L423.27,314.58 L423.68,314.43 L424.09,314.28 L424.49,314.14 L424.90,313.99 L425.30,313.84 L425.71,313.69 L426.12,313.54 L426.52,313.39 L426.93,313.24 L427.34,313.08 L427.74,312.93 L428.15,312.77 L428.55,312.62 L428.96,312.46 L429.37,312.30 L429.77,312.15 L430.18,311.99 L430.59,311.83 L430.99,311.66 L431.40,311.50 L431.80,311.34 L432.21,311.18 L432.62,311.01 L433.02,310.85 L433.43,310.68 L433.84,310.51 L434.24,310.34 L434.65,310.18 L435.05,310.01 L435.46,309.84 L435.87,309.66 L436.27,309.49 L436.68,309.32 L437.09,309.14 L437.49,308.97 L437.90,308.79 L438.30,308.62 L438.71,308.44 L439.12,308.26 L439.52,308.08 L439.93,307.90 L440.34,307.72 L440.74,307.54 L441.15,307.36 L441.55,307.18 L441.96,306.99 L442.37,306.81 L442.77,306.63 L443.18,306.44 L443.59,306.25 L443.99,306.06 L444.40,305.88 L444.80,305.69 L445.21,305.50 L445.62,305.31 L446.02,305.12 L446.43,304.92 L446.84,304.73 L447.24,304.54 L447.65,304.34 L448.05,304.15 L448.46,303.95 L448.87,303.75 L449.27,303.56 L449.68,303.36 L450.09,303.16 L450.49,302.96 L450.90,302.76 L451.30,302.56 L451.71,302.35 L452.12,302.15 L452.52,301.95 L452.93,301.74 L453.34,301.54 L453.74,301.33 L454.15,301.13 L454.55,300.92 L454.96,300.71 L455.37,300.50 L455.77,300.29 L456.18,300.08 L456.59,299.87 L456.99,299.66 L457.40,299.45 L457.80,299.24 L458.21,299.02 L458.62,298.81 L459.02,298.59 L459.43,298.38 L459.84,298.16 L460.24,297.94 L460.65,297.72 L461.05,297.51 L461.46,297.29 L461.87,297.07 L462.27,296.85 L462.68,296.63 L463.09,296.40 L463.49,296.18 L463.90,295.96 L464.30,295.73 L464.71,295.51 L465.12,295.28 L465.52,295.06 L465.93,294.83 L466.34,294.60 L466.74,294.38 L467.15,294.15 L467.55,293.92 L467.96,293.69 L468.37,293.46 L468.77,293.23 L469.18,292.99 L469.59,292.76 L469.99,292.53 L470.40,292.29 L470.80,292.06 L471.21,291.83 L471.62,291.59 L472.02,291.35 L472.43,291.12 L472.84,290.88 L473.24,290.64 L473.65,290.40 L474.05,290.16 L474.46,289.92 L474.87,289.68 L475.27,289.44 L475.68,289.20 L476.09,288.96 L476.49,288.71 L476.90,288.47 L477.30,288.23 L477.71,287.98 L478.12,287.73 L478.52,287.49 L478.93,287.24 L479.34,286.99 L479.74,286.75 L480.15,286.50 L480.55,286.25 L480.96,286.00 L481.37,285.75 L481.77,285.50 L482.18,285.25 L482.59,285.00 L482.99,284.74 L483.40,284.49 L483.80,284.24 L484.21,283.98 L484.62,283.73 L485.02,283.47 L485.43,283.22 L485.84,282.96 L486.24,282.70 L486.65,282.45" stroke="#6a5acd" stroke-linecap="square" stroke-linejoin="round"/>
<path d="M176.41,2.29 L176.86,58.07 L177.30,81.19 L177.74,96.09 L178.19,107.14 L178.63,115.96 L179.08,123.31 L179.52,129.63 L179.96,135.17 L180.41,140.12 L180.85,144.60 L181.30,148.69 L181.74,152.46 L182.18,155.96 L182.63,159.22 L183.07,162.29 L183.51,165.18 L183.96,167.92 L184.40,170.52 L184.85,173.00 L185.29,175.37 L185.73,177.64 L186.18,179.82 L186.62,181.91 L187.07,183.93 L187.51,185.89 L187.95,187.78 L188.40,189.61 L188.84,191.38 L189.28,193.11 L189.73,194.78 L190.17,196.42 L190.62,198.01 L191.06,199.56 L191.50,201.07 L191.95,202.55 L192.39,204.00 L192.83,205.42 L193.28,206.81 L193.72,208.17 L194.17,209.50 L194.61,210.81 L195.05,212.09 L195.50,213.36 L195.94,214.60 L196.39,215.82 L196.83,217.02 L197.27,218.20 L197.72,219.36 L198.16,220.51 L198.60,221.64 L199.05,222.75 L199.49,223.85 L199.94,224.93 L200.38,226.00 L200.82,227.05 L201.27,228.09 L201.71,229.12 L202.16,230.14 L202.60,231.14 L203.04,232.14 L203.49,233.12 L203.93,234.09 L204.37,235.05 L204.82,236.00 L205.26,236.94 L205.71,237.87 L206.15,238.79 L206.59,239.71 L207.04,240.61 L207.48,241.51 L207.92,242.39 L208.37,243.27 L208.81,244.14 L209.26,245.01 L209.70,245.86 L210.14,246.71 L210.59,247.56 L211.03,248.39 L211.48,249.22 L211.92,250.04 L212.36,250.86 L212.81,251.67 L213.25,252.47 L213.69,253.27 L214.14,254.06 L214.58,254.84 L215.03,255.63 L215.47,256.40 L215.91,257.17 L216.36,257.93 L216.80,258.69 L217.25,259.45 L217.69,260.20 L218.13,260.94 L218.58,261.68 L219.02,262.41 L219.46,263.14 L219.91,263.87 L220.35,264.59 L220.80,265.31 L221.24,266.02 L221.68,266.73 L222.13,267.43 L222.57,268.13 L223.01,268.83 L223.46,269.52 L223.90,270.21 L224.35,270.90 L224.79,271.58 L225.23,272.25 L225.68,272.93 L226.12,273.60 L226.57,274.26 L227.01,274.93 L227.45,275.59 L227.90,276.24 L228.34,276.89 L228.78,277.54 L229.23,278.19 L229.67,278.83 L230.12,279.47 L230.56,280.11 L231.00,280.74 L231.45,281.37 L231.89,282.00 L232.34,282.62 L232.78,283.24 L233.22,283.86 L233.67,284.48 L234.11,285.09 L234.55,285.70 L235.00,286.31 L235.44,286.91 L235.89,287.51 L236.33,288.11 L236.77,288.70 L237.22,289.30 L237.66,289.89 L238.11,290.48 L238.55,291.06 L238.99,291.64 L239.44,292.22 L239.88,292.80 L240.32,293.37 L240.77,293.95 L241.21,294.51 L241.66,295.08 L242.10,295.65 L242.54,296.21 L242.99,296.77 L243.43,297.32 L243.87,297.88 L244.32,298.43 L244.76,298.98 L245.21,299.53 L245.65,300.07 L246.09,300.62 L246.54,301.16 L246.98,301.70 L247.43,302.23 L247.87,302.76 L248.31,303.30 L248.76,303.82 L249.20,304.35 L249.64,304.88 L250.09,305.40 L250.53,305.92 L250.98,306.44 L251.42,306.95 L251.86,307.46 L252.31,307.98 L252.75,308.48 L253.20,308.99 L253.64,309.50 L254.08,310.00 L254.53,310.50 L254.97,311.00 L255.41,311.49 L255.86,311.98 L256.30,312.48 L256.75,312.97 L257.19,313.45 L257.63,313.94 L258.08,314.42 L258.52,314.90 L258.96,315.38 L259.41,315.86 L259.85,316.33 L260.30,316.80 L260.74,317.27 L261.18,317.74 L261.63,318.21 L262.07,318.67 L262.52,319.14 L262.96,319.59 L263.40,320.05 L263.85,320.51 L264.29,320.96 L264.73,321.41 L265.18,321.86 L265.62,322.31 L266.07,322.76 L266.51,323.20 L266.95,323.64 L267.40,324.08 L267.84,324.52 L268.29,324.95 L268.73,325.39 L269.17,325.82 L269.62,326.25 L270.06,326.67 L270.50,327.10 L270.95,327.52 L271.39,327.94 L271.84,328.36 L272.28,328.78 L272.72,329.19 L273.17,329.61 L273.61,330.02 L274.06,330.43 L274.50,330.83 L274.94,331.24 L275.39,331.64 L275.83,332.04 L276.27,332.44 L276.72,332.84 L277.16,333.23 L277.61,333.63 L278.05,334.02 L278.49,334.41 L278.94,334.79 L279.38,335.18 L279.82,335.56 L280.27,335.94 L280.71,336.32 L281.16,336.69 L281.60,337.07 L282.04,337.44 L282.49,337.81 L282.93,338.18 L283.38,338.55 L283.82,338.91 L284.26,339.27 L284.71,339.63 L285.15,339.99 L285.59,340.35 L286.04,340.70 L286.48,341.06 L286.93,341.41 L287.37,341.75 L287.81,342.10 L288.26,342.45 L288.70,342.79 L289.15,343.13 L289.59,343.47 L290.03,343.80 L290.48,344.14 L290.92,344.47 L291.36,344.80 L291.81,345.13 L292.25,345.45 L292.70,345.78 L293.14,346.10 L293.58,346.42 L294.03,346.74 L294.47,347.05 L294.91,347.37 L295.36,347.68 L295.80,347.99 L296.25,348.30 L296.69,348.60 L297.13,348.91 L297.58,349.21 L298.02,349.51 L298.47,349.81 L298.91,350.10 L299.35,350.40 L299.80,350.69 L300.24,350.98 L300.68,351.27 L301.13,351.55 L301.57,351.84 L302.02,352.12 L302.46,352.40 L302.90,352.68 L303.35,352.95 L303.79,353.22 L304.24,353.50 L304.68,353.77 L305.12,354.03 L305.57,354.30 L306.01,354.56 L306.45,354.83 L306.90,355.08 L307.34,355.34 L307.79,355.60 L308.23,355.85 L308.67,356.10 L309.12,356.35 L309.56,356.60 L310.01,356.85 L310.45,357.09 L310.89,357.33 L311.34,357.57 L311.78,357.81 L312.22,358.04 L312.67,358.28 L313.11,358.51 L313.56,358.74 L314.00,358.97 L314.44,359.19 L314.89,359.42 L315.33,359.64 L315.77,359.86 L316.22,360.08 L316.66,360.29 L317.11,360.51 L317.55,360.72 L317.99,360.93 L318.44,361.14 L318.88,361.34 L319.33,361.55 L319.77,361.75 L320.21,361.95 L320.66,362.15 L321.10,362.34 L321.54,362.54 L321.99,362.73 L322.43,362.92 L322.88,363.11 L323.32,363.29 L323.76,363.48 L324.21,363.66 L324.65,363.84 L325.10,364.02 L325.54,364.20 L325.98,364.37 L326.43,364.54 L326.87,364.71 L327.31,364.88 L327.76,365.05 L328.20,365.22 L328.65,365.38 L329.09,365.54 L329.53,365.70 L329.98,365.86 L330.42,366.01 L330.86,366.17 L331.31,366.32 L331.75,366.47 L332.20,366.62 L332.64,366.76 L333.08,366.91 L333.53,367.05 L333.97,367.19 L334.42,367.33 L334.86,367.46 L335.30,367.60 L335.75,367.73 L336.19,367.86 L336.63,367.99 L337.08,368.12 L337.52,368.24 L337.97,368.37 L338.41,368.49 L338.85,368.61 L339.30,368.73 L339.74,368.84 L340.19,368.96 L340.63,369.07 L341.07,369.18 L341.52,369.29 L341.96,369.40 L342.40,369.50 L342.85,369.61 L343.29,369.71 L343.74,369.81 L344.18,369.91 L344.62,370.00 L345.07,370.10 L345.51,370.19 L345.95,370.28 L346.40,370.37 L346.84,370.46 L347.29,370.54 L347.73,370.63 L348.17,370.71 L348.62,370.79 L349.06,370.87 L349.51,370.94 L349.95,371.02 L350.39,371.09 L350.84,371.16 L351.28,371.23 L351.72,371.30 L352.17,371.37 L352.61,371.43 L353.06,371.49 L353.50,371.56 L353.94,371.61 L354.39,371.67 L354.83,371.73 L355.28,371.78 L355.72,371.83 L356.16,371.89 L356.61,371.93 L357.05,371.98 L357.49,372.03 L357.94,372.07 L358.38,372.11 L358.83,372.16 L359.27,372.19 L359.71,372.23 L360.16,372.27 L360.60,372.30 L361.05,372.33 L361.49,372.37 L361.93,372.39 L362.38,372.42 L362.82,372.45 L363.26,372.47 L363.71,372.49 L364.15,372.52 L364.60,372.54 L365.04,372.55 L365.48,372.57 L365.93,372.58 L366.37,372.60 L366.81,372.61 L367.26,372.62 L367.70,372.63 L368.15,372.63 L368.59,372.64 L369.03,372.64 L369.48,372.64 L369.92,372.64 L370.37,372.64 L370.81,372.64 L371.25,372.64 L371.70,372.63 L372.14,372.62 L372.58,372.61 L373.03,372.60 L373.47,372.59 L373.92,372.58 L374.36,372.56 L374.80,372.55 L375.25,372.53 L375.69,372.51 L376.14,372.49 L376.58,372.47 L377.02,372.44 L377.47,372.42 L377.91,372.39 L378.35,372.36 L378.80,372.33 L379.24,372.30 L379.69,372.27 L380.13,372.23 L380.57,372.20 L381.02,372.16 L381.46,372.12 L381.90,372.08 L382.35,372.04 L382.79,372.00 L383.24,371.95 L383.68,371.91 L384.12,371.86 L384.57,371.81 L385.01,371.76 L385.46,371.71 L385.90,371.66 L386.34,371.60 L386.79,371.55 L387.23,371.49 L387.67,371.43 L388.12,371.37 L388.56,371.31 L389.01,371.25 L389.45,371.18 L389.89,371.12 L390.34,371.05 L390.78,370.98 L391.23,370.91 L391.67,370.84 L392.11,370.77 L392.56,370.70 L393.00,370.62 L393.44,370.55 L393.89,370.47 L394.33,370.39 L394.78,370.31 L395.22,370.23 L395.66,370.15 L396.11,370.06 L396.55,369.98 L397.00,369.89 L397.44,369.80 L397.88,369.71 L398.33,369.62 L398.77,369.53 L399.21,369.44 L399.66,369.34 L400.10,369.25 L400.55,369.15 L400.99,369.05 L401.43,368.95 L401.88,368.85 L402.32,368.75 L402.76,368.65 L403.21,368.54 L403.65,368.44 L404.10,368.33 L404.54,368.22 L404.98,368.11 L405.43,368.00 L405.87,367.89 L406.32,367.78 L406.76,367.66 L407.20,367.55 L407.65,367.43 L408.09,367.31 L408.53,367.19 L408.98,367.07 L409.42,366.95 L409.87,366.83 L410.31,366.70 L410.75,366.58 L411.20,366.45 L411.64,366.33 L412.09,366.20 L412.53,366.07 L412.97,365.94 L413.42,365.80 L413.86,365.67 L414.30,365.54 L414.75,365.40 L415.19,365.26 L415.64,365.13 L416.08,364.99 L416.52,364.85 L416.97,364.71 L417.41,364.56 L417.85,364.42 L418.30,364.27 L418.74,364.13 L419.19,363.98 L419.63,363.83 L420.07,363.69 L420.52,363.53 L420.96,363.38 L421.41,363.23 L421.85,363.08 L422.29,362.92 L422.74,362.77 L423.18,362.61 L423.62,362.45 L424.07,362.29 L424.51,362.13 L424.96,361.97 L425.40,361.81 L425.84,361.65 L426.29,361.48 L426.73,361.32 L427.18,361.15 L427.62,360.98 L428.06,360.82 L428.51,360.65 L428.95,360.48 L429.39,360.30 L429.84,360.13 L430.28,359.96 L430.73,359.78 L431.17,359.61 L431.61,359.43 L432.06,359.25 L432.50,359.07 L432.94,358.90 L433.39,358.71 L433.83,358.53 L434.28,358.35 L434.72,358.17 L435.16,357.98 L435.61,357.80 L436.05,357.61 L436.50,357.42 L436.94,357.23 L437.38,357.04 L437.83,356.85 L438.27,356.66 L438.71,356.47 L439.16,356.28 L439.60,356.08 L440.05,355.89 L440.49,355.69 L440.93,355.49 L441.38,355.29 L441.82,355.09 L442.27,354.89 L442.71,354.69 L443.15,354.49 L443.60,354.29 L444.04,354.09 L444.48,353.88 L444.93,353.67 L445.37,353.47 L445.82,353.26 L446.26,353.05 L446.70,352.84 L447.15,352.63 L447.59,352.42 L448.04,352.21 L448.48,352.00 L448.92,351.78 L449.37,351.57 L449.81,351.35 L450.25,351.14 L450.70,350.92 L451.14,350.70 L451.59,350.48 L452.03,350.26 L452.47,350.04 L452.92,349.82 L453.36,349.60 L453.80,349.37 L454.25,349.15 L454.69,348.92 L455.14,348.70 L455.58,348.47 L456.02,348.24 L456.47,348.01 L456.91,347.79 L457.36,347.56 L457.80,347.32 L458.24,347.09 L458.69,346.86 L459.13,346.63 L459.57,346.39 L460.02,346.16 L460.46,345.92 L460.91,345.68 L461.35,345.45 L461.79,345.21 L462.24,344.97 L462.68,344.73 L463.13,344.49 L463.57,344.25 L464.01,344.01 L464.46,343.76 L464.90,343.52 L465.34,343.27 L465.79,343.03 L466.23,342.78 L466.68,342.54 L467.12,342.29 L467.56,342.04 L468.01,341.79 L468.45,341.54 L468.89,341.29 L469.34,341.04 L469.78,340.79 L470.23,340.53 L470.67,340.28 L471.11,340.02 L471.56,339.77 L472.00,339.51 L472.45,339.26 L472.89,339.00 L473.33,338.74 L473.78,338.48 L474.22,338.22 L474.66,337.96 L475.11,337.70 L475.55,337.44 L476.00,337.18 L476.44,336.91 L476.88,336.65 L477.33,336.39 L477.77,336.12 L478.22,335.86 L478.66,335.59 L479.10,335.32 L479.55,335.05 L479.99,334.78 L480.43,334.52 L480.88,334.25 L481.32,333.98 L481.77,333.70 L482.21,333.43 L482.65,333.16 L483.10,332.89 L483.54,332.61 L483.99,332.34 L484.43,332.06 L484.87,331.79 L485.32,331.51 L485.76,331.23 L486.20,330.96 L486.65,330.68" stroke="#000080" stroke-dasharray="8.62 3.73" stroke-linejoin="round"/>
<path d="M178.30,2.29 L178.74,57.29 L179.18,80.29 L179.62,95.14 L180.06,106.16 L180.50,114.96 L180.94,122.29 L181.39,128.60 L181.83,134.13 L182.27,139.07 L182.71,143.54 L183.15,147.62 L183.59,151.38 L184.03,154.87 L184.47,158.13 L184.91,161.19 L185.36,164.07 L185.80,166.80 L186.24,169.40 L186.68,171.87 L187.12,174.23 L187.56,176.50 L188.00,178.67 L188.44,180.76 L188.88,182.78 L189.33,184.72 L189.77,186.60 L190.21,188.43 L190.65,190.20 L191.09,191.92 L191.53,193.59 L191.97,195.21 L192.41,196.80 L192.86,198.34 L193.30,199.85 L193.74,201.33 L194.18,202.77 L194.62,204.18 L195.06,205.56 L195.50,206.91 L195.94,208.24 L196.38,209.54 L196.83,210.82 L197.27,212.08 L197.71,213.31 L198.15,214.53 L198.59,215.72 L199.03,216.89 L199.47,218.05 L199.91,219.19 L200.35,220.31 L200.80,221.42 L201.24,222.51 L201.68,223.59 L202.12,224.65 L202.56,225.70 L203.00,226.73 L203.44,227.76 L203.88,228.76 L204.32,229.76 L204.77,230.75 L205.21,231.72 L205.65,232.69 L206.09,233.64 L206.53,234.59 L206.97,235.52 L207.41,236.45 L207.85,237.36 L208.29,238.27 L208.74,239.16 L209.18,240.05 L209.62,240.93 L210.06,241.81 L210.50,242.67 L210.94,243.53 L211.38,244.38 L211.82,245.22 L212.26,246.06 L212.71,246.89 L213.15,247.71 L213.59,248.52 L214.03,249.33 L214.47,250.13 L214.91,250.93 L215.35,251.72 L215.79,252.51 L216.23,253.29 L216.68,254.06 L217.12,254.83 L217.56,255.59 L218.00,256.35 L218.44,257.10 L218.88,257.85 L219.32,258.59 L219.76,259.33 L220.21,260.06 L220.65,260.79 L221.09,261.51 L221.53,262.23 L221.97,262.94 L222.41,263.65 L222.85,264.36 L223.29,265.06 L223.73,265.76 L224.18,266.45 L224.62,267.14 L225.06,267.83 L225.50,268.51 L225.94,269.18 L226.38,269.86 L226.82,270.53 L227.26,271.20 L227.70,271.86 L228.15,272.52 L228.59,273.17 L229.03,273.83 L229.47,274.47 L229.91,275.12 L230.35,275.76 L230.79,276.40 L231.23,277.04 L231.67,277.67 L232.12,278.30 L232.56,278.93 L233.00,279.55 L233.44,280.17 L233.88,280.79 L234.32,281.40 L234.76,282.01 L235.20,282.62 L235.64,283.22 L236.09,283.83 L236.53,284.43 L236.97,285.02 L237.41,285.62 L237.85,286.21 L238.29,286.80 L238.73,287.38 L239.17,287.96 L239.61,288.55 L240.06,289.12 L240.50,289.70 L240.94,290.27 L241.38,290.84 L241.82,291.41 L242.26,291.97 L242.70,292.53 L243.14,293.09 L243.59,293.65 L244.03,294.21 L244.47,294.76 L244.91,295.31 L245.35,295.86 L245.79,296.40 L246.23,296.94 L246.67,297.48 L247.11,298.02 L247.56,298.56 L248.00,299.09 L248.44,299.62 L248.88,300.15 L249.32,300.68 L249.76,301.20 L250.20,301.72 L250.64,302.24 L251.08,302.76 L251.53,303.27 L251.97,303.79 L252.41,304.30 L252.85,304.80 L253.29,305.31 L253.73,305.81 L254.17,306.32 L254.61,306.82 L255.05,307.31 L255.50,307.81 L255.94,308.30 L256.38,308.79 L256.82,309.28 L257.26,309.77 L257.70,310.25 L258.14,310.73 L258.58,311.21 L259.02,311.69 L259.47,312.17 L259.91,312.64 L260.35,313.11 L260.79,313.58 L261.23,314.05 L261.67,314.51 L262.11,314.98 L262.55,315.44 L262.99,315.90 L263.44,316.35 L263.88,316.81 L264.32,317.26 L264.76,317.71 L265.20,318.16 L265.64,318.61 L266.08,319.05 L266.52,319.49 L266.96,319.93 L267.41,320.37 L267.85,320.81 L268.29,321.24 L268.73,321.67 L269.17,322.10 L269.61,322.53 L270.05,322.96 L270.49,323.38 L270.94,323.80 L271.38,324.22 L271.82,324.64 L272.26,325.06 L272.70,325.47 L273.14,325.88 L273.58,326.29 L274.02,326.70 L274.46,327.11 L274.91,327.51 L275.35,327.91 L275.79,328.31 L276.23,328.71 L276.67,329.11 L277.11,329.50 L277.55,329.89 L277.99,330.28 L278.43,330.67 L278.88,331.05 L279.32,331.44 L279.76,331.82 L280.20,332.20 L280.64,332.58 L281.08,332.95 L281.52,333.33 L281.96,333.70 L282.40,334.07 L282.85,334.43 L283.29,334.80 L283.73,335.16 L284.17,335.53 L284.61,335.88 L285.05,336.24 L285.49,336.60 L285.93,336.95 L286.37,337.30 L286.82,337.65 L287.26,338.00 L287.70,338.35 L288.14,338.69 L288.58,339.03 L289.02,339.37 L289.46,339.71 L289.90,340.04 L290.34,340.38 L290.79,340.71 L291.23,341.04 L291.67,341.36 L292.11,341.69 L292.55,342.01 L292.99,342.34 L293.43,342.65 L293.87,342.97 L294.32,343.29 L294.76,343.60 L295.20,343.91 L295.64,344.22 L296.08,344.53 L296.52,344.83 L296.96,345.14 L297.40,345.44 L297.84,345.74 L298.29,346.04 L298.73,346.33 L299.17,346.63 L299.61,346.92 L300.05,347.21 L300.49,347.49 L300.93,347.78 L301.37,348.06 L301.81,348.34 L302.26,348.62 L302.70,348.90 L303.14,349.18 L303.58,349.45 L304.02,349.72 L304.46,349.99 L304.90,350.26 L305.34,350.52 L305.78,350.79 L306.23,351.05 L306.67,351.31 L307.11,351.57 L307.55,351.82 L307.99,352.08 L308.43,352.33 L308.87,352.58 L309.31,352.82 L309.75,353.07 L310.20,353.31 L310.64,353.56 L311.08,353.80 L311.52,354.03 L311.96,354.27 L312.40,354.50 L312.84,354.73 L313.28,354.96 L313.72,355.19 L314.17,355.42 L314.61,355.64 L315.05,355.86 L315.49,356.08 L315.93,356.30 L316.37,356.52 L316.81,356.73 L317.25,356.94 L317.69,357.15 L318.14,357.36 L318.58,357.57 L319.02,357.77 L319.46,357.98 L319.90,358.18 L320.34,358.38 L320.78,358.57 L321.22,358.77 L321.67,358.96 L322.11,359.15 L322.55,359.34 L322.99,359.53 L323.43,359.71 L323.87,359.89 L324.31,360.08 L324.75,360.25 L325.19,360.43 L325.64,360.61 L326.08,360.78 L326.52,360.95 L326.96,361.12 L327.40,361.29 L327.84,361.46 L328.28,361.62 L328.72,361.78 L329.16,361.94 L329.61,362.10 L330.05,362.26 L330.49,362.41 L330.93,362.56 L331.37,362.71 L331.81,362.86 L332.25,363.01 L332.69,363.16 L333.13,363.30 L333.58,363.44 L334.02,363.58 L334.46,363.72 L334.90,363.85 L335.34,363.99 L335.78,364.12 L336.22,364.25 L336.66,364.38 L337.10,364.50 L337.55,364.63 L337.99,364.75 L338.43,364.87 L338.87,364.99 L339.31,365.11 L339.75,365.23 L340.19,365.34 L340.63,365.45 L341.07,365.56 L341.52,365.67 L341.96,365.78 L342.40,365.88 L342.84,365.98 L343.28,366.09 L343.72,366.18 L344.16,366.28 L344.60,366.38 L345.05,366.47 L345.49,366.56 L345.93,366.66 L346.37,366.74 L346.81,366.83 L347.25,366.92 L347.69,367.00 L348.13,367.08 L348.57,367.16 L349.02,367.24 L349.46,367.32 L349.90,367.39 L350.34,367.46 L350.78,367.54 L351.22,367.60 L351.66,367.67 L352.10,367.74 L352.54,367.80 L352.99,367.87 L353.43,367.93 L353.87,367.99 L354.31,368.04 L354.75,368.10 L355.19,368.15 L355.63,368.21 L356.07,368.26 L356.51,368.31 L356.96,368.36 L357.40,368.40 L357.84,368.45 L358.28,368.49 L358.72,368.53 L359.16,368.57 L359.60,368.61 L360.04,368.64 L360.48,368.68 L360.93,368.71 L361.37,368.74 L361.81,368.77 L362.25,368.80 L362.69,368.82 L363.13,368.85 L363.57,368.87 L364.01,368.89 L364.45,368.91 L364.90,368.93 L365.34,368.95 L365.78,368.96 L366.22,368.98 L366.66,368.99 L367.10,369.00 L367.54,369.01 L367.98,369.02 L368.43,369.02 L368.87,369.03 L369.31,369.03 L369.75,369.03 L370.19,369.03 L370.63,369.03 L371.07,369.02 L371.51,369.02 L371.95,369.01 L372.40,369.00 L372.84,368.99 L373.28,368.98 L373.72,368.97 L374.16,368.96 L374.60,368.94 L375.04,368.92 L375.48,368.90 L375.92,368.88 L376.37,368.86 L376.81,368.84 L377.25,368.82 L377.69,368.79 L378.13,368.76 L378.57,368.73 L379.01,368.70 L379.45,368.67 L379.89,368.64 L380.34,368.60 L380.78,368.57 L381.22,368.53 L381.66,368.49 L382.10,368.45 L382.54,368.41 L382.98,368.36 L383.42,368.32 L383.86,368.27 L384.31,368.23 L384.75,368.18 L385.19,368.13 L385.63,368.08 L386.07,368.02 L386.51,367.97 L386.95,367.91 L387.39,367.85 L387.83,367.80 L388.28,367.74 L388.72,367.67 L389.16,367.61 L389.60,367.55 L390.04,367.48 L390.48,367.42 L390.92,367.35 L391.36,367.28 L391.80,367.21 L392.25,367.14 L392.69,367.06 L393.13,366.99 L393.57,366.91 L394.01,366.83 L394.45,366.76 L394.89,366.68 L395.33,366.59 L395.78,366.51 L396.22,366.43 L396.66,366.34 L397.10,366.26 L397.54,366.17 L397.98,366.08 L398.42,365.99 L398.86,365.90 L399.30,365.81 L399.75,365.71 L400.19,365.62 L400.63,365.52 L401.07,365.42 L401.51,365.32 L401.95,365.22 L402.39,365.12 L402.83,365.02 L403.27,364.91 L403.72,364.81 L404.16,364.70 L404.60,364.59 L405.04,364.49 L405.48,364.37 L405.92,364.26 L406.36,364.15 L406.80,364.04 L407.24,363.92 L407.69,363.81 L408.13,363.69 L408.57,363.57 L409.01,363.45 L409.45,363.33 L409.89,363.21 L410.33,363.08 L410.77,362.96 L411.21,362.83 L411.66,362.71 L412.10,362.58 L412.54,362.45 L412.98,362.32 L413.42,362.19 L413.86,362.06 L414.30,361.92 L414.74,361.79 L415.18,361.65 L415.63,361.52 L416.07,361.38 L416.51,361.24 L416.95,361.10 L417.39,360.96 L417.83,360.81 L418.27,360.67 L418.71,360.52 L419.16,360.38 L419.60,360.23 L420.04,360.08 L420.48,359.93 L420.92,359.78 L421.36,359.63 L421.80,359.48 L422.24,359.33 L422.68,359.17 L423.13,359.02 L423.57,358.86 L424.01,358.70 L424.45,358.54 L424.89,358.38 L425.33,358.22 L425.77,358.06 L426.21,357.90 L426.65,357.73 L427.10,357.57 L427.54,357.40 L427.98,357.23 L428.42,357.07 L428.86,356.90 L429.30,356.73 L429.74,356.56 L430.18,356.38 L430.62,356.21 L431.07,356.04 L431.51,355.86 L431.95,355.68 L432.39,355.51 L432.83,355.33 L433.27,355.15 L433.71,354.97 L434.15,354.79 L434.59,354.60 L435.04,354.42 L435.48,354.24 L435.92,354.05 L436.36,353.86 L436.80,353.68 L437.24,353.49 L437.68,353.30 L438.12,353.11 L438.56,352.92 L439.01,352.73 L439.45,352.53 L439.89,352.34 L440.33,352.15 L440.77,351.95 L441.21,351.75 L441.65,351.56 L442.09,351.36 L442.53,351.16 L442.98,350.96 L443.42,350.76 L443.86,350.55 L444.30,350.35 L444.74,350.15 L445.18,349.94 L445.62,349.74 L446.06,349.53 L446.51,349.32 L446.95,349.11 L447.39,348.90 L447.83,348.69 L448.27,348.48 L448.71,348.27 L449.15,348.06 L449.59,347.84 L450.03,347.63 L450.48,347.41 L450.92,347.20 L451.36,346.98 L451.80,346.76 L452.24,346.54 L452.68,346.32 L453.12,346.10 L453.56,345.88 L454.00,345.66 L454.45,345.43 L454.89,345.21 L455.33,344.98 L455.77,344.76 L456.21,344.53 L456.65,344.30 L457.09,344.07 L457.53,343.85 L457.97,343.62 L458.42,343.38 L458.86,343.15 L459.30,342.92 L459.74,342.69 L460.18,342.45 L460.62,342.22 L461.06,341.98 L461.50,341.75 L461.94,341.51 L462.39,341.27 L462.83,341.03 L463.27,340.79 L463.71,340.55 L464.15,340.31 L464.59,340.07 L465.03,339.83 L465.47,339.58 L465.91,339.34 L466.36,339.09 L466.80,338.85 L467.24,338.60 L467.68,338.36 L468.12,338.11 L468.56,337.86 L469.00,337.61 L469.44,337.36 L469.89,337.11 L470.33,336.86 L470.77,336.60 L471.21,336.35 L471.65,336.10 L472.09,335.84 L472.53,335.59 L472.97,335.33 L473.41,335.07 L473.86,334.82 L474.30,334.56 L474.74,334.30 L475.18,334.04 L475.62,333.78 L476.06,333.52 L476.50,333.26 L476.94,332.99 L477.38,332.73 L477.83,332.47 L478.27,332.20 L478.71,331.94 L479.15,331.67 L479.59,331.41 L480.03,331.14 L480.47,330.87 L480.91,330.60 L481.35,330.33 L481.80,330.06 L482.24,329.79 L482.68,329.52 L483.12,329.25 L483.56,328.98 L484.00,328.71 L484.44,328.43 L484.88,328.16 L485.32,327.88 L485.77,327.61 L486.21,327.33 L486.65,327.05" stroke="#000080" stroke-linecap="square" stroke-linejoin="round"/>
</g>
<path d="M95.10,410.90V419.10M289.90,410.90V419.10M484.70,410.90V419.10M95.10,410.90H86.90M95.10,315.88H86.90M95.10,220.85H86.90M95.10,125.82H86.90M95.10,30.80H86.90" stroke="#000" stroke-width="1.87" fill="none"/>
<path d="M153.74,410.90V415.57M188.04,410.90V415.57M212.38,410.90V415.57M231.26,410.90V415.57M246.68,410.90V415.57M259.73,410.90V415.57M271.02,410.90V415.57M280.99,410.90V415.57M348.54,410.90V415.57M382.84,410.90V415.57M407.18,410.90V415.57M426.06,410.90V415.57M441.48,410.90V415.57M454.53,410.90V415.57M465.82,410.90V415.57M475.79,410.90V415.57M95.10,382.29H90.43M95.10,365.56H90.43M95.10,353.69H90.43M95.10,344.48H90.43M95.10,336.96H90.43M95.10,330.59H90.43M95.10,325.08H90.43M95.10,320.22H90.43M95.10,287.27H90.43M95.10,270.54H90.43M95.10,258.66H90.43M95.10,249.46H90.43M95.10,241.93H90.43M95.10,235.57H90.43M95.10,230.06H90.43M95.10,225.20H90.43M95.10,192.24H90.43M95.10,175.51H90.43M95.10,163.64H90.43M95.10,154.43H90.43M95.10,146.91H90.43M95.10,140.54H90.43M95.10,135.03H90.43M95.10,130.17H90.43M95.10,97.22H90.43M95.10,80.49H90.43M95.10,68.61H90.43M95.10,59.41H90.43M95.10,51.88H90.43M95.10,45.52H90.43M95.10,40.01H90.43M95.10,35.15H90.43" stroke="#000" stroke-width="1.4" fill="none"/>
<rect x="95.10" y="30.80" width="389.60" height="380.10" fill="none" stroke="#000" stroke-width="1.87" stroke-linejoin="miter"/>
<rect x="318.50" y="39.70" width="156.50" height="227.00" rx="3.7" fill="#fff" fill-opacity="0.8" stroke="#cccccc" stroke-opacity="0.8" stroke-width="1.5"/>
<path d="M325.7,55.55H362.9" stroke="#ff0000" stroke-width="2.33" stroke-dasharray="8.62 3.73"/>
<path d="M325.7,83.30H362.9" stroke="#ff0000" stroke-width="2.33" stroke-linecap="square"/>
<path d="M325.7,111.05H362.9" stroke="#800080" stroke-width="2.33" stroke-dasharray="8.62 3.73"/>
<path d="M325.7,138.80H362.9" stroke="#800080" stroke-width="2.33" stroke-linecap="square"/>
<path d="M325.7,166.55H362.9" stroke="#6a5acd" stroke-width="2.33" stroke-dasharray="8.62 3.73"/>
<path d="M325.7,194.30H362.9" stroke="#6a5acd" stroke-width="2.33" stroke-linecap="square"/>
<path d="M325.7,222.05H362.9" stroke="#000080" stroke-width="2.33" stroke-dasharray="8.62 3.73"/>
<path d="M325.7,249.80H362.9" stroke="#000080" stroke-width="2.33" stroke-linecap="square"/>
<g style="font-family:'Liberation Serif', 'DejaVu Serif', serif" fill="#000">
<text transform="translate(377.26 58.55) scale(1.1126 1)" style="font-style:italic;font-size:18.60px">Q</text>
<text transform="translate(392.97 62.35) scale(1.3190 1)" style="font-size:13.40px">fuel</text>
<text transform="translate(426.47 61.15) scale(1.3492 1)" style="font-size:21.20px">=</text>
<text transform="translate(447.39 61.21) scale(1.1922 1)" style="font-size:22.63px">∞</text>
<text transform="translate(377.26 86.30) scale(1.1126 1)" style="font-style:italic;font-size:18.60px">Q</text>
<text transform="translate(392.51 90.10) scale(1.2905 1)" style="font-size:13.40px">sci</text>
<text transform="translate(418.18 88.90) scale(1.3390 1)" style="font-size:21.20px">=</text>
<text transform="translate(439.59 88.96) scale(1.1922 1)" style="font-size:22.63px">∞</text>
<text transform="translate(377.26 114.05) scale(1.1126 1)" style="font-style:italic;font-size:18.60px">Q</text>
<text transform="translate(392.97 117.85) scale(1.3190 1)" style="font-size:13.40px">fuel</text>
<text transform="translate(426.47 116.65) scale(1.3492 1)" style="font-size:21.20px">=</text>
<text transform="translate(447.49 114.27) scale(1.1403 1)" style="font-size:17.78px">20</text>
<text transform="translate(377.26 141.80) scale(1.1126 1)" style="font-style:italic;font-size:18.60px">Q</text>
<text transform="translate(392.51 145.60) scale(1.2905 1)" style="font-size:13.40px">sci</text>
<text transform="translate(418.18 144.40) scale(1.3390 1)" style="font-size:21.20px">=</text>
<text transform="translate(439.69 142.02) scale(1.1403 1)" style="font-size:17.78px">20</text>
<text transform="translate(377.26 169.55) scale(1.1126 1)" style="font-style:italic;font-size:18.60px">Q</text>
<text transform="translate(392.97 173.35) scale(1.3190 1)" style="font-size:13.40px">fuel</text>
<text transform="translate(426.47 172.15) scale(1.3492 1)" style="font-size:21.20px">=</text>
<text transform="translate(447.37 169.77) scale(0.9913 1)" style="font-size:18.05px">5</text>
<text transform="translate(377.26 197.30) scale(1.1126 1)" style="font-style:italic;font-size:18.60px">Q</text>
<text transform="translate(392.51 201.10) scale(1.2905 1)" style="font-size:13.40px">sci</text>
<text transform="translate(418.18 199.90) scale(1.3390 1)" style="font-size:21.20px">=</text>
<text transform="translate(439.57 197.52) scale(0.9913 1)" style="font-size:18.05px">5</text>
<text transform="translate(377.26 225.05) scale(1.1126 1)" style="font-style:italic;font-size:18.60px">Q</text>
<text transform="translate(392.97 228.85) scale(1.3190 1)" style="font-size:13.40px">fuel</text>
<text transform="translate(426.47 227.65) scale(1.3492 1)" style="font-size:21.20px">=</text>
<text transform="translate(447.14 225.45) scale(1.1078 1)" style="font-size:18.18px">1</text>
<text transform="translate(377.26 252.80) scale(1.1126 1)" style="font-style:italic;font-size:18.60px">Q</text>
<text transform="translate(392.51 256.60) scale(1.2905 1)" style="font-size:13.40px">sci</text>
<text transform="translate(418.18 255.40) scale(1.3390 1)" style="font-size:21.20px">=</text>
<text transform="translate(439.34 253.20) scale(1.1078 1)" style="font-size:18.18px">1</text>
<text transform="translate(34.51 418.87) scale(1.0335 1)" style="font-size:23.11px">10</text>
<text transform="translate(58.67 410.05) scale(1.15 1)" style="font-size:16.00px">19</text>
<text transform="translate(34.51 323.85) scale(1.0335 1)" style="font-size:23.11px">10</text>
<text transform="translate(58.67 315.02) scale(1.15 1)" style="font-size:16.00px">20</text>
<text transform="translate(34.51 228.82) scale(1.0335 1)" style="font-size:23.11px">10</text>
<text transform="translate(58.67 220.00) scale(1.15 1)" style="font-size:16.00px">21</text>
<text transform="translate(34.51 133.79) scale(1.0335 1)" style="font-size:23.11px">10</text>
<text transform="translate(58.67 124.97) scale(1.15 1)" style="font-size:16.00px">22</text>
<text transform="translate(34.51 38.77) scale(1.0335 1)" style="font-size:23.11px">10</text>
<text transform="translate(58.67 29.95) scale(1.15 1)" style="font-size:16.00px">23</text>
<text transform="translate(87.01 443.00) scale(0.9340 1)" style="font-size:24.30px">1</text>
<text transform="translate(276.34 443.00) scale(0.9688 1)" style="font-size:24.30px">10</text>
<text transform="translate(465.10 443.00) scale(0.9877 1)" style="font-size:24.30px">100</text>
<text transform="translate(247.94 474.60) scale(1.2141 1)" style="font-style:italic;stroke:#fff;stroke-width:0.25px;font-size:23.51px">T</text>
<text transform="translate(272.91 474.68) scale(0.9720 1)" style="font-size:25.01px">(</text>
<text transform="translate(281.95 474.26) scale(0.9933 1)" style="font-size:22.54px">keV</text>
<text transform="translate(322.14 474.46) scale(0.6801 1)" style="font-size:25.12px">)</text>
<text transform="translate(92.38 15.61) scale(1.1607 1)" style="font-style:italic;font-size:22.56px">η</text>
<text transform="translate(104.20 18.56) scale(1.4271 1)" style="font-size:14.04px">abs</text>
<text transform="translate(137.97 17.51) scale(1.4090 1)" style="font-size:23.20px">=</text>
<text transform="translate(162.30 15.50) scale(1.2026 1)" style="font-size:20.00px">0.9</text>
<g transform="rotate(-90)">
<text transform="translate(-280.89 19.20) scale(1.4684 1)" style="font-style:italic;stroke:#fff;stroke-width:0.20px;font-size:21.28px">n</text>
<text transform="translate(-265.50 19.00) scale(1.3148 1)" style="font-style:italic;stroke:#fff;stroke-width:0.20px;font-size:20.21px">τ</text>
<text transform="translate(-254.36 22.30) scale(1.2352 1)" style="font-style:italic;font-size:15.73px">E</text>
<text transform="translate(-232.21 19.28) scale(0.8936 1)" style="font-size:25.01px">(</text>
<text transform="translate(-224.96 19.60) scale(1.1028 1)" style="font-size:20.64px">m</text>
<text transform="translate(-207.02 14.38) scale(1.2634 1)" style="font-size:24.00px">−</text>
<text transform="translate(-190.85 8.78) scale(1.5080 1)" style="font-size:11.90px">3</text>
<text transform="translate(-182.24 19.40) scale(1.3236 1)" style="font-size:19.58px">s</text>
<text transform="translate(-171.68 19.51) scale(0.9500 1)" style="font-size:25.34px">)</text>
</g></g></svg>
</body></html>
